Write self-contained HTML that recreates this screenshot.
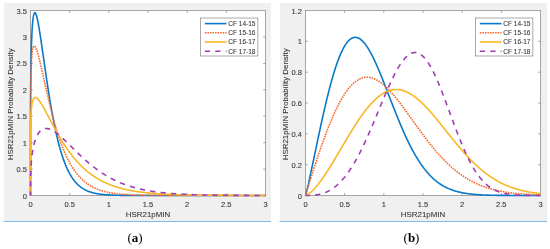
<!DOCTYPE html>
<html><head><meta charset="utf-8"><style>
html,body{margin:0;padding:0;background:#fff;}
body{width:550px;height:249px;overflow:hidden;}
svg{display:block;}
</style></head><body>
<svg width="550" height="249" viewBox="0 0 550 249">
<rect x="4" y="3" width="267" height="218" fill="#f0f0f0"/>
<rect x="3.5" y="221" width="267.5" height="1" fill="#80b9ea"/>
<rect x="30.5" y="10.5" width="235" height="185" fill="#fff"/>
<g stroke="#555" stroke-width="0.5" fill="none">
<rect x="30.5" y="10.5" width="235" height="185"/>
<path d="M69.67 195.5v-2.4M69.67 10.5v2.4"/>
<path d="M108.83 195.5v-2.4M108.83 10.5v2.4"/>
<path d="M148.00 195.5v-2.4M148.00 10.5v2.4"/>
<path d="M187.17 195.5v-2.4M187.17 10.5v2.4"/>
<path d="M226.33 195.5v-2.4M226.33 10.5v2.4"/>
<path d="M30.5 169.07h2.4M265.5 169.07h-2.4"/>
<path d="M30.5 142.64h2.4M265.5 142.64h-2.4"/>
<path d="M30.5 116.21h2.4M265.5 116.21h-2.4"/>
<path d="M30.5 89.79h2.4M265.5 89.79h-2.4"/>
<path d="M30.5 63.36h2.4M265.5 63.36h-2.4"/>
<path d="M30.5 36.93h2.4M265.5 36.93h-2.4"/>
</g>
<g fill="none" stroke-width="1.6" stroke-linejoin="round">
<polyline points="30.50,195.50 30.52,132.63 30.54,121.66 30.56,114.39 30.58,108.81 30.60,104.24 30.62,100.33 30.64,96.90 30.66,93.84 30.68,91.07 30.70,88.53 30.72,86.19 30.74,84.02 30.76,81.98 30.78,80.07 30.80,78.27 30.81,76.57 30.83,74.95 30.85,73.41 30.87,71.93 30.89,70.53 30.91,69.18 30.93,67.88 30.95,66.64 30.97,65.43 30.99,64.28 31.01,63.16 31.03,62.08 31.05,61.03 31.07,60.02 31.09,59.04 31.11,58.08 31.13,57.16 31.15,56.26 31.17,55.38 31.19,54.53 31.21,53.70 31.23,52.89 31.25,52.11 31.27,51.34 31.29,50.59 31.31,49.86 31.33,49.14 31.35,48.45 31.37,47.76 31.39,47.10 31.41,46.44 31.43,45.81 31.44,45.18 31.46,44.57 31.48,43.97 31.50,43.39 31.52,42.81 31.54,42.25 31.56,41.70 31.58,41.16 31.60,40.63 31.62,40.11 31.64,39.60 31.66,39.10 31.68,38.61 31.70,38.12 31.72,37.65 31.74,37.19 31.76,36.73 31.78,36.28 31.80,35.84 31.82,35.41 31.84,34.99 31.86,34.57 31.88,34.16 31.90,33.76 31.92,33.36 31.94,32.97 31.96,32.59 31.98,32.21 32.00,31.84 32.02,31.48 32.04,31.12 32.05,30.77 32.07,30.42 32.09,30.08 32.11,29.75 32.13,29.42 32.15,29.10 32.17,28.78 32.19,28.46 32.21,28.15 32.23,27.85 32.25,27.55 32.27,27.26 32.29,26.97 32.31,26.69 32.33,26.41 32.35,26.13 32.37,25.86 32.39,25.59 32.41,25.33 32.43,25.07 32.45,24.82 32.47,24.57 32.49,24.32 32.51,24.08 32.53,23.84 32.55,23.60 32.57,23.37 32.59,23.14 32.61,22.92 32.63,22.70 32.65,22.48 32.66,22.27 32.68,22.06 32.70,21.85 32.72,21.65 32.74,21.45 32.76,21.25 32.78,21.06 32.80,20.87 32.82,20.68 32.84,20.50 32.86,20.32 32.88,20.14 32.90,19.96 32.92,19.79 32.94,19.62 32.96,19.45 32.98,19.29 33.00,19.13 33.02,18.97 33.04,18.81 33.06,18.66 33.08,18.51 33.10,18.36 33.12,18.21 33.14,18.07 33.16,17.93 33.18,17.79 33.20,17.65 33.22,17.52 33.24,17.39 33.26,17.26 33.28,17.13 33.29,17.01 33.31,16.88 33.33,16.76 33.35,16.65 33.37,16.53 33.39,16.42 33.41,16.31 33.43,16.20 33.45,16.09 33.47,15.98 33.49,15.88 33.51,15.78 33.53,15.68 33.55,15.58 33.57,15.49 33.59,15.40 33.61,15.30 33.63,15.21 33.65,15.13 33.67,15.04 33.69,14.96 33.71,14.88 33.73,14.79 33.75,14.72 33.77,14.64 33.79,14.56 33.81,14.49 33.83,14.42 33.85,14.35 33.87,14.28 33.89,14.22 33.90,14.15 33.92,14.09 33.94,14.03 33.96,13.97 33.98,13.91 34.00,13.85 34.02,13.79 34.04,13.74 34.06,13.69 34.08,13.64 34.10,13.59 34.12,13.54 34.14,13.49 34.16,13.45 34.18,13.41 34.20,13.36 34.22,13.32 34.24,13.28 34.26,13.25 34.28,13.21 34.30,13.17 34.32,13.14 34.34,13.11 34.36,13.08 34.38,13.05 34.40,13.02 34.42,12.99 34.42,12.99 34.80,12.71 35.19,12.84 35.57,13.34 35.96,14.15 36.35,15.23 36.73,16.55 37.12,18.07 37.50,19.77 37.89,21.63 38.27,23.63 38.66,25.75 39.05,27.97 39.43,30.28 39.82,32.68 40.20,35.14 40.59,37.65 40.97,40.22 41.36,42.82 41.75,45.46 42.13,48.12 42.52,50.80 42.90,53.49 43.29,56.19 43.68,58.90 44.06,61.60 44.45,64.29 44.83,66.98 45.22,69.66 45.60,72.31 45.99,74.96 46.38,77.58 46.76,80.17 47.15,82.75 47.53,85.29 47.92,87.81 48.30,90.29 48.69,92.75 49.08,95.17 49.46,97.56 49.85,99.91 50.23,102.23 50.62,104.52 51.01,106.76 51.39,108.97 51.78,111.14 52.16,113.28 52.55,115.37 52.93,117.43 53.32,119.45 53.71,121.43 54.09,123.37 54.48,125.27 54.86,127.14 55.25,128.96 55.63,130.75 56.02,132.50 56.41,134.22 56.79,135.89 57.18,137.53 57.56,139.14 57.95,140.71 58.34,142.24 58.72,143.73 59.11,145.20 59.49,146.62 59.88,148.02 60.26,149.38 60.65,150.70 61.04,152.00 61.42,153.26 61.81,154.49 62.19,155.69 62.58,156.87 62.96,158.01 63.35,159.12 63.74,160.20 64.12,161.26 64.51,162.28 64.89,163.28 65.28,164.26 65.66,165.21 66.05,166.13 66.44,167.03 66.82,167.90 67.21,168.75 67.59,169.57 67.98,170.38 68.37,171.16 68.75,171.92 69.14,172.65 69.52,173.37 69.91,174.07 70.29,174.75 70.68,175.40 71.07,176.04 71.45,176.66 71.84,177.26 72.22,177.85 72.61,178.41 72.99,178.97 73.38,179.50 73.77,180.02 74.15,180.52 74.54,181.01 74.92,181.48 75.31,181.94 75.70,182.39 76.08,182.82 76.47,183.24 76.85,183.64 77.24,184.04 77.62,184.42 78.01,184.79 78.40,185.15 78.78,185.49 79.17,185.83 79.55,186.15 79.94,186.47 80.32,186.77 80.71,187.07 81.10,187.36 81.48,187.63 81.87,187.90 82.25,188.16 82.64,188.41 83.03,188.66 83.41,188.89 83.80,189.12 84.18,189.34 84.57,189.55 84.95,189.76 85.34,189.96 85.73,190.15 86.11,190.34 86.50,190.52 86.88,190.69 87.27,190.86 87.65,191.03 88.04,191.18 88.43,191.34 88.81,191.48 89.20,191.63 89.58,191.76 89.97,191.90 90.36,192.02 90.74,192.15 91.13,192.27 91.51,192.38 91.90,192.50 92.28,192.60 92.67,192.71 93.06,192.81 93.44,192.91 93.83,193.00 94.21,193.09 94.60,193.18 94.98,193.26 95.37,193.34 95.76,193.42 96.14,193.50 96.53,193.57 96.91,193.64 97.30,193.71 97.68,193.78 98.07,193.84 98.46,193.90 98.84,193.96 99.23,194.02 99.61,194.07 100.00,194.13 100.39,194.18 100.77,194.23 101.16,194.27 101.54,194.32 101.93,194.36 102.31,194.41 102.70,194.45 103.09,194.49 103.47,194.52 103.86,194.56 104.24,194.60 104.63,194.63 105.01,194.66 105.40,194.70 105.79,194.73 106.17,194.76 106.56,194.78 106.94,194.81 107.33,194.84 107.72,194.86 108.10,194.89 108.49,194.91 108.87,194.93 109.26,194.95 109.64,194.98 110.03,195.00 110.42,195.02 110.80,195.03 111.19,195.05 111.57,195.07 111.96,195.09 112.34,195.10 112.73,195.12 113.12,195.13 113.50,195.15 113.89,195.16 114.27,195.17 114.66,195.19 115.05,195.20 115.43,195.21 115.82,195.22 116.20,195.23 116.59,195.24 116.97,195.25 117.36,195.26 117.75,195.27 118.13,195.28 118.52,195.29 118.90,195.30 119.29,195.31 119.67,195.31 120.06,195.32 120.45,195.33 120.83,195.34 121.22,195.34 121.60,195.35 121.99,195.35 122.37,195.36 122.76,195.37 123.15,195.37 123.53,195.38 123.92,195.38 124.30,195.39 124.69,195.39 125.08,195.39 125.46,195.40 125.85,195.40 126.23,195.41 126.62,195.41 127.00,195.41 127.39,195.42 127.78,195.42 128.16,195.42 128.55,195.43 128.93,195.43 129.32,195.43 129.70,195.44 130.09,195.44 130.48,195.44 130.86,195.44 131.25,195.45 131.63,195.45 132.02,195.45 132.41,195.45 132.79,195.45 133.18,195.46 133.56,195.46 133.95,195.46 134.33,195.46 134.72,195.46 135.11,195.46 135.49,195.47 135.88,195.47 136.26,195.47 136.65,195.47 137.03,195.47 137.42,195.47 137.81,195.47 138.19,195.47 138.58,195.48 138.96,195.48 139.35,195.48 139.74,195.48 140.12,195.48 140.51,195.48 140.89,195.48 141.28,195.48 141.66,195.48 142.05,195.48 142.44,195.48 142.82,195.48 143.21,195.49 143.59,195.49 143.98,195.49 144.36,195.49 144.75,195.49 145.14,195.49 145.52,195.49 145.91,195.49 146.29,195.49 146.68,195.49 147.06,195.49 147.45,195.49 147.84,195.49 148.22,195.49 148.61,195.49 148.99,195.49 149.38,195.49 149.77,195.49 150.15,195.49 150.54,195.49 150.92,195.49 151.31,195.49 151.69,195.49 152.08,195.49 152.47,195.49 152.85,195.50 153.24,195.50 153.62,195.50 154.01,195.50 154.39,195.50 154.78,195.50 155.17,195.50 155.55,195.50 155.94,195.50 156.32,195.50 156.71,195.50 157.10,195.50 157.48,195.50 157.87,195.50 158.25,195.50 158.64,195.50 159.02,195.50 159.41,195.50 159.80,195.50 160.18,195.50 160.57,195.50 160.95,195.50 161.34,195.50 161.72,195.50 162.11,195.50 162.50,195.50 162.88,195.50 163.27,195.50 163.65,195.50 164.04,195.50 164.43,195.50 164.81,195.50 165.20,195.50 165.58,195.50 165.97,195.50 166.35,195.50 166.74,195.50 167.13,195.50 167.51,195.50 167.90,195.50 168.28,195.50 168.67,195.50 169.05,195.50 169.44,195.50 169.83,195.50 170.21,195.50 170.60,195.50 170.98,195.50 171.37,195.50 171.76,195.50 172.14,195.50 172.53,195.50 172.91,195.50 173.30,195.50 173.68,195.50 174.07,195.50 174.46,195.50 174.84,195.50 175.23,195.50 175.61,195.50 176.00,195.50 176.38,195.50 176.77,195.50 177.16,195.50 177.54,195.50 177.93,195.50 178.31,195.50 178.70,195.50 179.08,195.50 179.47,195.50 179.86,195.50 180.24,195.50 180.63,195.50 181.01,195.50 181.40,195.50 181.79,195.50 182.17,195.50 182.56,195.50 182.94,195.50 183.33,195.50 183.71,195.50 184.10,195.50 184.49,195.50 184.87,195.50 185.26,195.50 185.64,195.50 186.03,195.50 186.41,195.50 186.80,195.50 187.19,195.50 187.57,195.50 187.96,195.50 188.34,195.50 188.73,195.50 189.12,195.50 189.50,195.50 189.89,195.50 190.27,195.50 190.66,195.50 191.04,195.50 191.43,195.50 191.82,195.50 192.20,195.50 192.59,195.50 192.97,195.50 193.36,195.50 193.74,195.50 194.13,195.50 194.52,195.50 194.90,195.50 195.29,195.50 195.67,195.50 196.06,195.50 196.45,195.50 196.83,195.50 197.22,195.50 197.60,195.50 197.99,195.50 198.37,195.50 198.76,195.50 199.15,195.50 199.53,195.50 199.92,195.50 200.30,195.50 200.69,195.50 201.07,195.50 201.46,195.50 201.85,195.50 202.23,195.50 202.62,195.50 203.00,195.50 203.39,195.50 203.77,195.50 204.16,195.50 204.55,195.50 204.93,195.50 205.32,195.50 205.70,195.50 206.09,195.50 206.48,195.50 206.86,195.50 207.25,195.50 207.63,195.50 208.02,195.50 208.40,195.50 208.79,195.50 209.18,195.50 209.56,195.50 209.95,195.50 210.33,195.50 210.72,195.50 211.10,195.50 211.49,195.50 211.88,195.50 212.26,195.50 212.65,195.50 213.03,195.50 213.42,195.50 213.81,195.50 214.19,195.50 214.58,195.50 214.96,195.50 215.35,195.50 215.73,195.50 216.12,195.50 216.51,195.50 216.89,195.50 217.28,195.50 217.66,195.50 218.05,195.50 218.43,195.50 218.82,195.50 219.21,195.50 219.59,195.50 219.98,195.50 220.36,195.50 220.75,195.50 221.14,195.50 221.52,195.50 221.91,195.50 222.29,195.50 222.68,195.50 223.06,195.50 223.45,195.50 223.84,195.50 224.22,195.50 224.61,195.50 224.99,195.50 225.38,195.50 225.76,195.50 226.15,195.50 226.54,195.50 226.92,195.50 227.31,195.50 227.69,195.50 228.08,195.50 228.46,195.50 228.85,195.50 229.24,195.50 229.62,195.50 230.01,195.50 230.39,195.50 230.78,195.50 231.17,195.50 231.55,195.50 231.94,195.50 232.32,195.50 232.71,195.50 233.09,195.50 233.48,195.50 233.87,195.50 234.25,195.50 234.64,195.50 235.02,195.50 235.41,195.50 235.79,195.50 236.18,195.50 236.57,195.50 236.95,195.50 237.34,195.50 237.72,195.50 238.11,195.50 238.50,195.50 238.88,195.50 239.27,195.50 239.65,195.50 240.04,195.50 240.42,195.50 240.81,195.50 241.20,195.50 241.58,195.50 241.97,195.50 242.35,195.50 242.74,195.50 243.12,195.50 243.51,195.50 243.90,195.50 244.28,195.50 244.67,195.50 245.05,195.50 245.44,195.50 245.83,195.50 246.21,195.50 246.60,195.50 246.98,195.50 247.37,195.50 247.75,195.50 248.14,195.50 248.53,195.50 248.91,195.50 249.30,195.50 249.68,195.50 250.07,195.50 250.45,195.50 250.84,195.50 251.23,195.50 251.61,195.50 252.00,195.50 252.38,195.50 252.77,195.50 253.15,195.50 253.54,195.50 253.93,195.50 254.31,195.50 254.70,195.50 255.08,195.50 255.47,195.50 255.86,195.50 256.24,195.50 256.63,195.50 257.01,195.50 257.40,195.50 257.78,195.50 258.17,195.50 258.56,195.50 258.94,195.50 259.33,195.50 259.71,195.50 260.10,195.50 260.48,195.50 260.87,195.50 261.26,195.50 261.64,195.50 262.03,195.50 262.41,195.50 262.80,195.50 263.19,195.50 263.57,195.50 263.96,195.50 264.34,195.50 264.73,195.50 265.11,195.50 265.50,195.50" stroke="#0a78c8"/>
<polyline points="30.50,195.50 30.52,120.52 30.54,111.94 30.56,106.49 30.58,102.43 30.60,99.15 30.62,96.41 30.64,94.03 30.66,91.93 30.68,90.05 30.70,88.35 30.72,86.79 30.74,85.36 30.76,84.02 30.78,82.78 30.80,81.62 30.81,80.52 30.83,79.49 30.85,78.51 30.87,77.58 30.89,76.69 30.91,75.85 30.93,75.04 30.95,74.27 30.97,73.53 30.99,72.82 31.01,72.13 31.03,71.47 31.05,70.84 31.07,70.23 31.09,69.63 31.11,69.06 31.13,68.51 31.15,67.97 31.17,67.45 31.19,66.95 31.21,66.46 31.23,65.99 31.25,65.53 31.27,65.08 31.29,64.64 31.31,64.22 31.33,63.80 31.35,63.40 31.37,63.01 31.39,62.63 31.41,62.26 31.43,61.89 31.44,61.54 31.46,61.19 31.48,60.86 31.50,60.53 31.52,60.20 31.54,59.89 31.56,59.58 31.58,59.28 31.60,58.99 31.62,58.70 31.64,58.42 31.66,58.14 31.68,57.87 31.70,57.61 31.72,57.35 31.74,57.10 31.76,56.85 31.78,56.61 31.80,56.37 31.82,56.14 31.84,55.91 31.86,55.69 31.88,55.47 31.90,55.25 31.92,55.04 31.94,54.84 31.96,54.64 31.98,54.44 32.00,54.24 32.02,54.05 32.04,53.87 32.05,53.68 32.07,53.50 32.09,53.33 32.11,53.16 32.13,52.99 32.15,52.82 32.17,52.66 32.19,52.50 32.21,52.34 32.23,52.19 32.25,52.04 32.27,51.89 32.29,51.74 32.31,51.60 32.33,51.46 32.35,51.32 32.37,51.19 32.39,51.06 32.41,50.93 32.43,50.80 32.45,50.68 32.47,50.55 32.49,50.43 32.51,50.32 32.53,50.20 32.55,50.09 32.57,49.98 32.59,49.87 32.61,49.76 32.63,49.66 32.65,49.56 32.66,49.45 32.68,49.36 32.70,49.26 32.72,49.17 32.74,49.07 32.76,48.98 32.78,48.89 32.80,48.81 32.82,48.72 32.84,48.64 32.86,48.55 32.88,48.47 32.90,48.40 32.92,48.32 32.94,48.24 32.96,48.17 32.98,48.10 33.00,48.03 33.02,47.96 33.04,47.89 33.06,47.83 33.08,47.76 33.10,47.70 33.12,47.64 33.14,47.58 33.16,47.52 33.18,47.46 33.20,47.40 33.22,47.35 33.24,47.30 33.26,47.24 33.28,47.19 33.29,47.14 33.31,47.10 33.33,47.05 33.35,47.00 33.37,46.96 33.39,46.92 33.41,46.87 33.43,46.83 33.45,46.79 33.47,46.75 33.49,46.72 33.51,46.68 33.53,46.64 33.55,46.61 33.57,46.58 33.59,46.55 33.61,46.51 33.63,46.48 33.65,46.46 33.67,46.43 33.69,46.40 33.71,46.38 33.73,46.35 33.75,46.33 33.77,46.30 33.79,46.28 33.81,46.26 33.83,46.24 33.85,46.22 33.87,46.20 33.89,46.19 33.90,46.17 33.92,46.15 33.94,46.14 33.96,46.13 33.98,46.11 34.00,46.10 34.02,46.09 34.04,46.08 34.06,46.07 34.08,46.06 34.10,46.05 34.12,46.05 34.14,46.04 34.16,46.04 34.18,46.03 34.20,46.03 34.22,46.02 34.24,46.02 34.26,46.02 34.28,46.02 34.30,46.02 34.32,46.02 34.34,46.02 34.36,46.02 34.38,46.02 34.40,46.03 34.42,46.03 34.42,46.03 34.80,46.24 35.19,46.68 35.57,47.30 35.96,48.08 36.35,49.00 36.73,50.04 37.12,51.19 37.50,52.42 37.89,53.74 38.27,55.12 38.66,56.56 39.05,58.06 39.43,59.59 39.82,61.17 40.20,62.78 40.59,64.42 40.97,66.08 41.36,67.76 41.75,69.46 42.13,71.17 42.52,72.90 42.90,74.63 43.29,76.36 43.68,78.10 44.06,79.83 44.45,81.57 44.83,83.30 45.22,85.03 45.60,86.75 45.99,88.47 46.38,90.17 46.76,91.87 47.15,93.56 47.53,95.23 47.92,96.89 48.30,98.54 48.69,100.17 49.08,101.79 49.46,103.40 49.85,104.99 50.23,106.56 50.62,108.12 51.01,109.66 51.39,111.18 51.78,112.68 52.16,114.17 52.55,115.64 52.93,117.09 53.32,118.52 53.71,119.93 54.09,121.33 54.48,122.70 54.86,124.06 55.25,125.40 55.63,126.72 56.02,128.02 56.41,129.30 56.79,130.57 57.18,131.81 57.56,133.04 57.95,134.24 58.34,135.43 58.72,136.60 59.11,137.75 59.49,138.89 59.88,140.00 60.26,141.10 60.65,142.18 61.04,143.24 61.42,144.28 61.81,145.31 62.19,146.32 62.58,147.31 62.96,148.28 63.35,149.24 63.74,150.18 64.12,151.11 64.51,152.02 64.89,152.91 65.28,153.79 65.66,154.65 66.05,155.50 66.44,156.33 66.82,157.14 67.21,157.94 67.59,158.73 67.98,159.50 68.37,160.26 68.75,161.00 69.14,161.73 69.52,162.45 69.91,163.15 70.29,163.84 70.68,164.51 71.07,165.17 71.45,165.82 71.84,166.46 72.22,167.09 72.61,167.70 72.99,168.30 73.38,168.89 73.77,169.47 74.15,170.03 74.54,170.59 74.92,171.13 75.31,171.67 75.70,172.19 76.08,172.70 76.47,173.20 76.85,173.69 77.24,174.17 77.62,174.65 78.01,175.11 78.40,175.56 78.78,176.01 79.17,176.44 79.55,176.87 79.94,177.28 80.32,177.69 80.71,178.09 81.10,178.48 81.48,178.86 81.87,179.24 82.25,179.61 82.64,179.97 83.03,180.32 83.41,180.66 83.80,181.00 84.18,181.33 84.57,181.65 84.95,181.97 85.34,182.28 85.73,182.58 86.11,182.88 86.50,183.17 86.88,183.45 87.27,183.73 87.65,184.00 88.04,184.27 88.43,184.53 88.81,184.78 89.20,185.03 89.58,185.27 89.97,185.51 90.36,185.74 90.74,185.97 91.13,186.19 91.51,186.41 91.90,186.62 92.28,186.83 92.67,187.03 93.06,187.23 93.44,187.43 93.83,187.62 94.21,187.80 94.60,187.98 94.98,188.16 95.37,188.34 95.76,188.51 96.14,188.67 96.53,188.83 96.91,188.99 97.30,189.15 97.68,189.30 98.07,189.45 98.46,189.59 98.84,189.73 99.23,189.87 99.61,190.01 100.00,190.14 100.39,190.27 100.77,190.39 101.16,190.51 101.54,190.63 101.93,190.75 102.31,190.87 102.70,190.98 103.09,191.09 103.47,191.20 103.86,191.30 104.24,191.40 104.63,191.50 105.01,191.60 105.40,191.69 105.79,191.79 106.17,191.88 106.56,191.97 106.94,192.05 107.33,192.14 107.72,192.22 108.10,192.30 108.49,192.38 108.87,192.45 109.26,192.53 109.64,192.60 110.03,192.67 110.42,192.74 110.80,192.81 111.19,192.88 111.57,192.94 111.96,193.01 112.34,193.07 112.73,193.13 113.12,193.19 113.50,193.24 113.89,193.30 114.27,193.35 114.66,193.41 115.05,193.46 115.43,193.51 115.82,193.56 116.20,193.61 116.59,193.66 116.97,193.70 117.36,193.75 117.75,193.79 118.13,193.83 118.52,193.88 118.90,193.92 119.29,193.96 119.67,194.00 120.06,194.03 120.45,194.07 120.83,194.11 121.22,194.14 121.60,194.18 121.99,194.21 122.37,194.24 122.76,194.27 123.15,194.30 123.53,194.34 123.92,194.36 124.30,194.39 124.69,194.42 125.08,194.45 125.46,194.48 125.85,194.50 126.23,194.53 126.62,194.55 127.00,194.58 127.39,194.60 127.78,194.62 128.16,194.65 128.55,194.67 128.93,194.69 129.32,194.71 129.70,194.73 130.09,194.75 130.48,194.77 130.86,194.79 131.25,194.81 131.63,194.82 132.02,194.84 132.41,194.86 132.79,194.87 133.18,194.89 133.56,194.91 133.95,194.92 134.33,194.94 134.72,194.95 135.11,194.97 135.49,194.98 135.88,194.99 136.26,195.01 136.65,195.02 137.03,195.03 137.42,195.04 137.81,195.06 138.19,195.07 138.58,195.08 138.96,195.09 139.35,195.10 139.74,195.11 140.12,195.12 140.51,195.13 140.89,195.14 141.28,195.15 141.66,195.16 142.05,195.17 142.44,195.18 142.82,195.19 143.21,195.19 143.59,195.20 143.98,195.21 144.36,195.22 144.75,195.22 145.14,195.23 145.52,195.24 145.91,195.25 146.29,195.25 146.68,195.26 147.06,195.27 147.45,195.27 147.84,195.28 148.22,195.28 148.61,195.29 148.99,195.29 149.38,195.30 149.77,195.31 150.15,195.31 150.54,195.32 150.92,195.32 151.31,195.33 151.69,195.33 152.08,195.33 152.47,195.34 152.85,195.34 153.24,195.35 153.62,195.35 154.01,195.36 154.39,195.36 154.78,195.36 155.17,195.37 155.55,195.37 155.94,195.37 156.32,195.38 156.71,195.38 157.10,195.38 157.48,195.39 157.87,195.39 158.25,195.39 158.64,195.40 159.02,195.40 159.41,195.40 159.80,195.40 160.18,195.41 160.57,195.41 160.95,195.41 161.34,195.41 161.72,195.42 162.11,195.42 162.50,195.42 162.88,195.42 163.27,195.42 163.65,195.43 164.04,195.43 164.43,195.43 164.81,195.43 165.20,195.43 165.58,195.44 165.97,195.44 166.35,195.44 166.74,195.44 167.13,195.44 167.51,195.44 167.90,195.45 168.28,195.45 168.67,195.45 169.05,195.45 169.44,195.45 169.83,195.45 170.21,195.45 170.60,195.46 170.98,195.46 171.37,195.46 171.76,195.46 172.14,195.46 172.53,195.46 172.91,195.46 173.30,195.46 173.68,195.46 174.07,195.47 174.46,195.47 174.84,195.47 175.23,195.47 175.61,195.47 176.00,195.47 176.38,195.47 176.77,195.47 177.16,195.47 177.54,195.47 177.93,195.47 178.31,195.47 178.70,195.48 179.08,195.48 179.47,195.48 179.86,195.48 180.24,195.48 180.63,195.48 181.01,195.48 181.40,195.48 181.79,195.48 182.17,195.48 182.56,195.48 182.94,195.48 183.33,195.48 183.71,195.48 184.10,195.48 184.49,195.48 184.87,195.48 185.26,195.48 185.64,195.48 186.03,195.49 186.41,195.49 186.80,195.49 187.19,195.49 187.57,195.49 187.96,195.49 188.34,195.49 188.73,195.49 189.12,195.49 189.50,195.49 189.89,195.49 190.27,195.49 190.66,195.49 191.04,195.49 191.43,195.49 191.82,195.49 192.20,195.49 192.59,195.49 192.97,195.49 193.36,195.49 193.74,195.49 194.13,195.49 194.52,195.49 194.90,195.49 195.29,195.49 195.67,195.49 196.06,195.49 196.45,195.49 196.83,195.49 197.22,195.49 197.60,195.49 197.99,195.49 198.37,195.49 198.76,195.49 199.15,195.49 199.53,195.49 199.92,195.49 200.30,195.49 200.69,195.50 201.07,195.50 201.46,195.50 201.85,195.50 202.23,195.50 202.62,195.50 203.00,195.50 203.39,195.50 203.77,195.50 204.16,195.50 204.55,195.50 204.93,195.50 205.32,195.50 205.70,195.50 206.09,195.50 206.48,195.50 206.86,195.50 207.25,195.50 207.63,195.50 208.02,195.50 208.40,195.50 208.79,195.50 209.18,195.50 209.56,195.50 209.95,195.50 210.33,195.50 210.72,195.50 211.10,195.50 211.49,195.50 211.88,195.50 212.26,195.50 212.65,195.50 213.03,195.50 213.42,195.50 213.81,195.50 214.19,195.50 214.58,195.50 214.96,195.50 215.35,195.50 215.73,195.50 216.12,195.50 216.51,195.50 216.89,195.50 217.28,195.50 217.66,195.50 218.05,195.50 218.43,195.50 218.82,195.50 219.21,195.50 219.59,195.50 219.98,195.50 220.36,195.50 220.75,195.50 221.14,195.50 221.52,195.50 221.91,195.50 222.29,195.50 222.68,195.50 223.06,195.50 223.45,195.50 223.84,195.50 224.22,195.50 224.61,195.50 224.99,195.50 225.38,195.50 225.76,195.50 226.15,195.50 226.54,195.50 226.92,195.50 227.31,195.50 227.69,195.50 228.08,195.50 228.46,195.50 228.85,195.50 229.24,195.50 229.62,195.50 230.01,195.50 230.39,195.50 230.78,195.50 231.17,195.50 231.55,195.50 231.94,195.50 232.32,195.50 232.71,195.50 233.09,195.50 233.48,195.50 233.87,195.50 234.25,195.50 234.64,195.50 235.02,195.50 235.41,195.50 235.79,195.50 236.18,195.50 236.57,195.50 236.95,195.50 237.34,195.50 237.72,195.50 238.11,195.50 238.50,195.50 238.88,195.50 239.27,195.50 239.65,195.50 240.04,195.50 240.42,195.50 240.81,195.50 241.20,195.50 241.58,195.50 241.97,195.50 242.35,195.50 242.74,195.50 243.12,195.50 243.51,195.50 243.90,195.50 244.28,195.50 244.67,195.50 245.05,195.50 245.44,195.50 245.83,195.50 246.21,195.50 246.60,195.50 246.98,195.50 247.37,195.50 247.75,195.50 248.14,195.50 248.53,195.50 248.91,195.50 249.30,195.50 249.68,195.50 250.07,195.50 250.45,195.50 250.84,195.50 251.23,195.50 251.61,195.50 252.00,195.50 252.38,195.50 252.77,195.50 253.15,195.50 253.54,195.50 253.93,195.50 254.31,195.50 254.70,195.50 255.08,195.50 255.47,195.50 255.86,195.50 256.24,195.50 256.63,195.50 257.01,195.50 257.40,195.50 257.78,195.50 258.17,195.50 258.56,195.50 258.94,195.50 259.33,195.50 259.71,195.50 260.10,195.50 260.48,195.50 260.87,195.50 261.26,195.50 261.64,195.50 262.03,195.50 262.41,195.50 262.80,195.50 263.19,195.50 263.57,195.50 263.96,195.50 264.34,195.50 264.73,195.50 265.11,195.50 265.50,195.50" stroke="#f66a32" stroke-dasharray="1.6 0.95"/>
<polyline points="30.50,195.50 30.52,141.12 30.54,136.11 30.56,132.98 30.58,130.66 30.60,128.81 30.62,127.26 30.64,125.93 30.66,124.76 30.68,123.71 30.70,122.77 30.72,121.90 30.74,121.11 30.76,120.37 30.78,119.68 30.80,119.04 30.81,118.44 30.83,117.87 30.85,117.33 30.87,116.82 30.89,116.33 30.91,115.87 30.93,115.42 30.95,115.00 30.97,114.59 30.99,114.20 31.01,113.83 31.03,113.46 31.05,113.11 31.07,112.78 31.09,112.45 31.11,112.14 31.13,111.83 31.15,111.54 31.17,111.25 31.19,110.97 31.21,110.70 31.23,110.44 31.25,110.19 31.27,109.94 31.29,109.70 31.31,109.46 31.33,109.23 31.35,109.01 31.37,108.79 31.39,108.58 31.41,108.37 31.43,108.17 31.44,107.97 31.46,107.78 31.48,107.59 31.50,107.41 31.52,107.22 31.54,107.05 31.56,106.87 31.58,106.71 31.60,106.54 31.62,106.38 31.64,106.22 31.66,106.06 31.68,105.91 31.70,105.76 31.72,105.61 31.74,105.47 31.76,105.33 31.78,105.19 31.80,105.05 31.82,104.92 31.84,104.79 31.86,104.66 31.88,104.53 31.90,104.41 31.92,104.28 31.94,104.16 31.96,104.05 31.98,103.93 32.00,103.82 32.02,103.71 32.04,103.60 32.05,103.49 32.07,103.38 32.09,103.28 32.11,103.17 32.13,103.07 32.15,102.97 32.17,102.88 32.19,102.78 32.21,102.69 32.23,102.59 32.25,102.50 32.27,102.41 32.29,102.32 32.31,102.24 32.33,102.15 32.35,102.07 32.37,101.98 32.39,101.90 32.41,101.82 32.43,101.74 32.45,101.66 32.47,101.59 32.49,101.51 32.51,101.44 32.53,101.36 32.55,101.29 32.57,101.22 32.59,101.15 32.61,101.08 32.63,101.02 32.65,100.95 32.66,100.88 32.68,100.82 32.70,100.75 32.72,100.69 32.74,100.63 32.76,100.57 32.78,100.51 32.80,100.45 32.82,100.39 32.84,100.34 32.86,100.28 32.88,100.22 32.90,100.17 32.92,100.12 32.94,100.06 32.96,100.01 32.98,99.96 33.00,99.91 33.02,99.86 33.04,99.81 33.06,99.76 33.08,99.71 33.10,99.67 33.12,99.62 33.14,99.58 33.16,99.53 33.18,99.49 33.20,99.44 33.22,99.40 33.24,99.36 33.26,99.32 33.28,99.28 33.29,99.24 33.31,99.20 33.33,99.16 33.35,99.12 33.37,99.08 33.39,99.05 33.41,99.01 33.43,98.98 33.45,98.94 33.47,98.91 33.49,98.87 33.51,98.84 33.53,98.81 33.55,98.77 33.57,98.74 33.59,98.71 33.61,98.68 33.63,98.65 33.65,98.62 33.67,98.59 33.69,98.56 33.71,98.53 33.73,98.51 33.75,98.48 33.77,98.45 33.79,98.43 33.81,98.40 33.83,98.38 33.85,98.35 33.87,98.33 33.89,98.30 33.90,98.28 33.92,98.26 33.94,98.23 33.96,98.21 33.98,98.19 34.00,98.17 34.02,98.15 34.04,98.13 34.06,98.11 34.08,98.09 34.10,98.07 34.12,98.05 34.14,98.03 34.16,98.01 34.18,98.00 34.20,97.98 34.22,97.96 34.24,97.95 34.26,97.93 34.28,97.91 34.30,97.90 34.32,97.88 34.34,97.87 34.36,97.85 34.38,97.84 34.40,97.83 34.42,97.81 34.42,97.81 34.80,97.62 35.19,97.54 35.57,97.56 35.96,97.65 36.35,97.82 36.73,98.05 37.12,98.34 37.50,98.67 37.89,99.05 38.27,99.47 38.66,99.92 39.05,100.41 39.43,100.92 39.82,101.45 40.20,102.01 40.59,102.60 40.97,103.19 41.36,103.81 41.75,104.44 42.13,105.09 42.52,105.75 42.90,106.41 43.29,107.09 43.68,107.78 44.06,108.48 44.45,109.18 44.83,109.89 45.22,110.60 45.60,111.32 45.99,112.04 46.38,112.77 46.76,113.50 47.15,114.23 47.53,114.97 47.92,115.70 48.30,116.44 48.69,117.17 49.08,117.91 49.46,118.65 49.85,119.38 50.23,120.12 50.62,120.85 51.01,121.58 51.39,122.31 51.78,123.04 52.16,123.77 52.55,124.49 52.93,125.21 53.32,125.93 53.71,126.65 54.09,127.36 54.48,128.07 54.86,128.78 55.25,129.48 55.63,130.18 56.02,130.87 56.41,131.56 56.79,132.25 57.18,132.93 57.56,133.61 57.95,134.28 58.34,134.95 58.72,135.62 59.11,136.28 59.49,136.93 59.88,137.58 60.26,138.23 60.65,138.87 61.04,139.51 61.42,140.14 61.81,140.77 62.19,141.39 62.58,142.00 62.96,142.62 63.35,143.22 63.74,143.82 64.12,144.42 64.51,145.01 64.89,145.60 65.28,146.18 65.66,146.76 66.05,147.33 66.44,147.89 66.82,148.46 67.21,149.01 67.59,149.56 67.98,150.11 68.37,150.65 68.75,151.18 69.14,151.71 69.52,152.24 69.91,152.76 70.29,153.28 70.68,153.79 71.07,154.29 71.45,154.79 71.84,155.29 72.22,155.78 72.61,156.26 72.99,156.74 73.38,157.22 73.77,157.69 74.15,158.16 74.54,158.62 74.92,159.07 75.31,159.52 75.70,159.97 76.08,160.41 76.47,160.85 76.85,161.28 77.24,161.71 77.62,162.14 78.01,162.56 78.40,162.97 78.78,163.38 79.17,163.79 79.55,164.19 79.94,164.58 80.32,164.98 80.71,165.36 81.10,165.75 81.48,166.13 81.87,166.50 82.25,166.87 82.64,167.24 83.03,167.60 83.41,167.96 83.80,168.32 84.18,168.67 84.57,169.01 84.95,169.35 85.34,169.69 85.73,170.03 86.11,170.36 86.50,170.69 86.88,171.01 87.27,171.33 87.65,171.64 88.04,171.96 88.43,172.26 88.81,172.57 89.20,172.87 89.58,173.17 89.97,173.46 90.36,173.75 90.74,174.04 91.13,174.32 91.51,174.60 91.90,174.88 92.28,175.15 92.67,175.42 93.06,175.69 93.44,175.95 93.83,176.21 94.21,176.47 94.60,176.72 94.98,176.98 95.37,177.22 95.76,177.47 96.14,177.71 96.53,177.95 96.91,178.19 97.30,178.42 97.68,178.65 98.07,178.88 98.46,179.10 98.84,179.32 99.23,179.54 99.61,179.76 100.00,179.97 100.39,180.18 100.77,180.39 101.16,180.60 101.54,180.80 101.93,181.00 102.31,181.20 102.70,181.39 103.09,181.58 103.47,181.77 103.86,181.96 104.24,182.15 104.63,182.33 105.01,182.51 105.40,182.69 105.79,182.87 106.17,183.04 106.56,183.21 106.94,183.38 107.33,183.55 107.72,183.71 108.10,183.88 108.49,184.04 108.87,184.20 109.26,184.35 109.64,184.51 110.03,184.66 110.42,184.81 110.80,184.96 111.19,185.11 111.57,185.25 111.96,185.40 112.34,185.54 112.73,185.68 113.12,185.81 113.50,185.95 113.89,186.08 114.27,186.22 114.66,186.35 115.05,186.47 115.43,186.60 115.82,186.73 116.20,186.85 116.59,186.97 116.97,187.09 117.36,187.21 117.75,187.33 118.13,187.44 118.52,187.56 118.90,187.67 119.29,187.78 119.67,187.89 120.06,188.00 120.45,188.10 120.83,188.21 121.22,188.31 121.60,188.42 121.99,188.52 122.37,188.62 122.76,188.71 123.15,188.81 123.53,188.91 123.92,189.00 124.30,189.09 124.69,189.18 125.08,189.27 125.46,189.36 125.85,189.45 126.23,189.54 126.62,189.62 127.00,189.71 127.39,189.79 127.78,189.87 128.16,189.96 128.55,190.03 128.93,190.11 129.32,190.19 129.70,190.27 130.09,190.34 130.48,190.42 130.86,190.49 131.25,190.56 131.63,190.64 132.02,190.71 132.41,190.78 132.79,190.84 133.18,190.91 133.56,190.98 133.95,191.04 134.33,191.11 134.72,191.17 135.11,191.24 135.49,191.30 135.88,191.36 136.26,191.42 136.65,191.48 137.03,191.54 137.42,191.60 137.81,191.65 138.19,191.71 138.58,191.76 138.96,191.82 139.35,191.87 139.74,191.93 140.12,191.98 140.51,192.03 140.89,192.08 141.28,192.13 141.66,192.18 142.05,192.23 142.44,192.28 142.82,192.33 143.21,192.37 143.59,192.42 143.98,192.46 144.36,192.51 144.75,192.55 145.14,192.60 145.52,192.64 145.91,192.68 146.29,192.72 146.68,192.76 147.06,192.80 147.45,192.84 147.84,192.88 148.22,192.92 148.61,192.96 148.99,193.00 149.38,193.04 149.77,193.07 150.15,193.11 150.54,193.14 150.92,193.18 151.31,193.21 151.69,193.25 152.08,193.28 152.47,193.31 152.85,193.35 153.24,193.38 153.62,193.41 154.01,193.44 154.39,193.47 154.78,193.50 155.17,193.53 155.55,193.56 155.94,193.59 156.32,193.62 156.71,193.65 157.10,193.68 157.48,193.70 157.87,193.73 158.25,193.76 158.64,193.78 159.02,193.81 159.41,193.83 159.80,193.86 160.18,193.88 160.57,193.91 160.95,193.93 161.34,193.96 161.72,193.98 162.11,194.00 162.50,194.03 162.88,194.05 163.27,194.07 163.65,194.09 164.04,194.11 164.43,194.13 164.81,194.15 165.20,194.17 165.58,194.19 165.97,194.21 166.35,194.23 166.74,194.25 167.13,194.27 167.51,194.29 167.90,194.31 168.28,194.33 168.67,194.34 169.05,194.36 169.44,194.38 169.83,194.40 170.21,194.41 170.60,194.43 170.98,194.45 171.37,194.46 171.76,194.48 172.14,194.49 172.53,194.51 172.91,194.52 173.30,194.54 173.68,194.55 174.07,194.57 174.46,194.58 174.84,194.60 175.23,194.61 175.61,194.62 176.00,194.64 176.38,194.65 176.77,194.66 177.16,194.68 177.54,194.69 177.93,194.70 178.31,194.71 178.70,194.73 179.08,194.74 179.47,194.75 179.86,194.76 180.24,194.77 180.63,194.78 181.01,194.80 181.40,194.81 181.79,194.82 182.17,194.83 182.56,194.84 182.94,194.85 183.33,194.86 183.71,194.87 184.10,194.88 184.49,194.89 184.87,194.90 185.26,194.91 185.64,194.92 186.03,194.92 186.41,194.93 186.80,194.94 187.19,194.95 187.57,194.96 187.96,194.97 188.34,194.98 188.73,194.98 189.12,194.99 189.50,195.00 189.89,195.01 190.27,195.02 190.66,195.02 191.04,195.03 191.43,195.04 191.82,195.04 192.20,195.05 192.59,195.06 192.97,195.07 193.36,195.07 193.74,195.08 194.13,195.09 194.52,195.09 194.90,195.10 195.29,195.10 195.67,195.11 196.06,195.12 196.45,195.12 196.83,195.13 197.22,195.13 197.60,195.14 197.99,195.15 198.37,195.15 198.76,195.16 199.15,195.16 199.53,195.17 199.92,195.17 200.30,195.18 200.69,195.18 201.07,195.19 201.46,195.19 201.85,195.20 202.23,195.20 202.62,195.21 203.00,195.21 203.39,195.22 203.77,195.22 204.16,195.23 204.55,195.23 204.93,195.23 205.32,195.24 205.70,195.24 206.09,195.25 206.48,195.25 206.86,195.25 207.25,195.26 207.63,195.26 208.02,195.27 208.40,195.27 208.79,195.27 209.18,195.28 209.56,195.28 209.95,195.28 210.33,195.29 210.72,195.29 211.10,195.29 211.49,195.30 211.88,195.30 212.26,195.30 212.65,195.31 213.03,195.31 213.42,195.31 213.81,195.32 214.19,195.32 214.58,195.32 214.96,195.32 215.35,195.33 215.73,195.33 216.12,195.33 216.51,195.34 216.89,195.34 217.28,195.34 217.66,195.34 218.05,195.35 218.43,195.35 218.82,195.35 219.21,195.35 219.59,195.35 219.98,195.36 220.36,195.36 220.75,195.36 221.14,195.36 221.52,195.37 221.91,195.37 222.29,195.37 222.68,195.37 223.06,195.37 223.45,195.38 223.84,195.38 224.22,195.38 224.61,195.38 224.99,195.38 225.38,195.39 225.76,195.39 226.15,195.39 226.54,195.39 226.92,195.39 227.31,195.39 227.69,195.40 228.08,195.40 228.46,195.40 228.85,195.40 229.24,195.40 229.62,195.40 230.01,195.41 230.39,195.41 230.78,195.41 231.17,195.41 231.55,195.41 231.94,195.41 232.32,195.41 232.71,195.42 233.09,195.42 233.48,195.42 233.87,195.42 234.25,195.42 234.64,195.42 235.02,195.42 235.41,195.43 235.79,195.43 236.18,195.43 236.57,195.43 236.95,195.43 237.34,195.43 237.72,195.43 238.11,195.43 238.50,195.43 238.88,195.44 239.27,195.44 239.65,195.44 240.04,195.44 240.42,195.44 240.81,195.44 241.20,195.44 241.58,195.44 241.97,195.44 242.35,195.44 242.74,195.45 243.12,195.45 243.51,195.45 243.90,195.45 244.28,195.45 244.67,195.45 245.05,195.45 245.44,195.45 245.83,195.45 246.21,195.45 246.60,195.45 246.98,195.45 247.37,195.45 247.75,195.46 248.14,195.46 248.53,195.46 248.91,195.46 249.30,195.46 249.68,195.46 250.07,195.46 250.45,195.46 250.84,195.46 251.23,195.46 251.61,195.46 252.00,195.46 252.38,195.46 252.77,195.46 253.15,195.46 253.54,195.47 253.93,195.47 254.31,195.47 254.70,195.47 255.08,195.47 255.47,195.47 255.86,195.47 256.24,195.47 256.63,195.47 257.01,195.47 257.40,195.47 257.78,195.47 258.17,195.47 258.56,195.47 258.94,195.47 259.33,195.47 259.71,195.47 260.10,195.47 260.48,195.47 260.87,195.47 261.26,195.48 261.64,195.48 262.03,195.48 262.41,195.48 262.80,195.48 263.19,195.48 263.57,195.48 263.96,195.48 264.34,195.48 264.73,195.48 265.11,195.48 265.50,195.48" stroke="#f8b826"/>
<polyline points="30.50,195.50 30.52,185.50 30.54,183.01 30.56,181.27 30.58,179.89 30.60,178.73 30.62,177.72 30.64,176.82 30.66,176.00 30.68,175.25 30.70,174.56 30.72,173.91 30.74,173.30 30.76,172.72 30.78,172.17 30.80,171.65 30.81,171.16 30.83,170.68 30.85,170.22 30.87,169.78 30.89,169.36 30.91,168.95 30.93,168.55 30.95,168.17 30.97,167.80 30.99,167.43 31.01,167.08 31.03,166.74 31.05,166.40 31.07,166.08 31.09,165.76 31.11,165.45 31.13,165.15 31.15,164.85 31.17,164.56 31.19,164.27 31.21,163.99 31.23,163.72 31.25,163.45 31.27,163.19 31.29,162.93 31.31,162.67 31.33,162.42 31.35,162.18 31.37,161.94 31.39,161.70 31.41,161.46 31.43,161.23 31.44,161.01 31.46,160.78 31.48,160.56 31.50,160.35 31.52,160.13 31.54,159.92 31.56,159.71 31.58,159.51 31.60,159.30 31.62,159.10 31.64,158.91 31.66,158.71 31.68,158.52 31.70,158.33 31.72,158.14 31.74,157.95 31.76,157.77 31.78,157.59 31.80,157.41 31.82,157.23 31.84,157.06 31.86,156.88 31.88,156.71 31.90,156.54 31.92,156.37 31.94,156.21 31.96,156.04 31.98,155.88 32.00,155.72 32.02,155.56 32.04,155.40 32.05,155.24 32.07,155.09 32.09,154.93 32.11,154.78 32.13,154.63 32.15,154.48 32.17,154.33 32.19,154.18 32.21,154.04 32.23,153.89 32.25,153.75 32.27,153.61 32.29,153.47 32.31,153.33 32.33,153.19 32.35,153.05 32.37,152.92 32.39,152.78 32.41,152.65 32.43,152.52 32.45,152.39 32.47,152.26 32.49,152.13 32.51,152.00 32.53,151.87 32.55,151.74 32.57,151.62 32.59,151.49 32.61,151.37 32.63,151.25 32.65,151.13 32.66,151.01 32.68,150.89 32.70,150.77 32.72,150.65 32.74,150.53 32.76,150.41 32.78,150.30 32.80,150.18 32.82,150.07 32.84,149.96 32.86,149.84 32.88,149.73 32.90,149.62 32.92,149.51 32.94,149.40 32.96,149.29 32.98,149.18 33.00,149.08 33.02,148.97 33.04,148.86 33.06,148.76 33.08,148.65 33.10,148.55 33.12,148.45 33.14,148.34 33.16,148.24 33.18,148.14 33.20,148.04 33.22,147.94 33.24,147.84 33.26,147.74 33.28,147.64 33.29,147.55 33.31,147.45 33.33,147.35 33.35,147.26 33.37,147.16 33.39,147.07 33.41,146.97 33.43,146.88 33.45,146.79 33.47,146.69 33.49,146.60 33.51,146.51 33.53,146.42 33.55,146.33 33.57,146.24 33.59,146.15 33.61,146.06 33.63,145.97 33.65,145.88 33.67,145.80 33.69,145.71 33.71,145.62 33.73,145.54 33.75,145.45 33.77,145.37 33.79,145.28 33.81,145.20 33.83,145.11 33.85,145.03 33.87,144.95 33.89,144.87 33.90,144.78 33.92,144.70 33.94,144.62 33.96,144.54 33.98,144.46 34.00,144.38 34.02,144.30 34.04,144.22 34.06,144.15 34.08,144.07 34.10,143.99 34.12,143.91 34.14,143.84 34.16,143.76 34.18,143.68 34.20,143.61 34.22,143.53 34.24,143.46 34.26,143.38 34.28,143.31 34.30,143.23 34.32,143.16 34.34,143.09 34.36,143.02 34.38,142.94 34.40,142.87 34.42,142.80 34.42,142.80 34.80,141.47 35.19,140.25 35.57,139.14 35.96,138.12 36.35,137.18 36.73,136.32 37.12,135.52 37.50,134.79 37.89,134.12 38.27,133.50 38.66,132.93 39.05,132.41 39.43,131.93 39.82,131.49 40.20,131.09 40.59,130.72 40.97,130.39 41.36,130.09 41.75,129.82 42.13,129.58 42.52,129.37 42.90,129.19 43.29,129.03 43.68,128.89 44.06,128.78 44.45,128.69 44.83,128.62 45.22,128.56 45.60,128.53 45.99,128.52 46.38,128.53 46.76,128.55 47.15,128.58 47.53,128.64 47.92,128.71 48.30,128.79 48.69,128.89 49.08,129.00 49.46,129.12 49.85,129.25 50.23,129.40 50.62,129.56 51.01,129.73 51.39,129.90 51.78,130.09 52.16,130.29 52.55,130.50 52.93,130.72 53.32,130.94 53.71,131.18 54.09,131.42 54.48,131.67 54.86,131.93 55.25,132.19 55.63,132.46 56.02,132.74 56.41,133.02 56.79,133.31 57.18,133.61 57.56,133.91 57.95,134.21 58.34,134.53 58.72,134.84 59.11,135.16 59.49,135.49 59.88,135.81 60.26,136.15 60.65,136.48 61.04,136.82 61.42,137.17 61.81,137.51 62.19,137.86 62.58,138.21 62.96,138.57 63.35,138.93 63.74,139.29 64.12,139.65 64.51,140.01 64.89,140.38 65.28,140.75 65.66,141.12 66.05,141.49 66.44,141.86 66.82,142.24 67.21,142.61 67.59,142.99 67.98,143.36 68.37,143.74 68.75,144.12 69.14,144.50 69.52,144.88 69.91,145.26 70.29,145.64 70.68,146.02 71.07,146.40 71.45,146.79 71.84,147.17 72.22,147.55 72.61,147.93 72.99,148.31 73.38,148.69 73.77,149.07 74.15,149.45 74.54,149.83 74.92,150.21 75.31,150.59 75.70,150.97 76.08,151.34 76.47,151.72 76.85,152.09 77.24,152.47 77.62,152.84 78.01,153.21 78.40,153.58 78.78,153.95 79.17,154.32 79.55,154.69 79.94,155.05 80.32,155.42 80.71,155.78 81.10,156.14 81.48,156.50 81.87,156.86 82.25,157.22 82.64,157.57 83.03,157.93 83.41,158.28 83.80,158.63 84.18,158.98 84.57,159.33 84.95,159.67 85.34,160.02 85.73,160.36 86.11,160.70 86.50,161.04 86.88,161.37 87.27,161.71 87.65,162.04 88.04,162.37 88.43,162.70 88.81,163.03 89.20,163.35 89.58,163.68 89.97,164.00 90.36,164.32 90.74,164.63 91.13,164.95 91.51,165.26 91.90,165.57 92.28,165.88 92.67,166.19 93.06,166.49 93.44,166.79 93.83,167.09 94.21,167.39 94.60,167.69 94.98,167.98 95.37,168.27 95.76,168.56 96.14,168.85 96.53,169.14 96.91,169.42 97.30,169.70 97.68,169.98 98.07,170.26 98.46,170.53 98.84,170.80 99.23,171.07 99.61,171.34 100.00,171.61 100.39,171.87 100.77,172.13 101.16,172.39 101.54,172.65 101.93,172.91 102.31,173.16 102.70,173.41 103.09,173.66 103.47,173.91 103.86,174.15 104.24,174.39 104.63,174.63 105.01,174.87 105.40,175.11 105.79,175.34 106.17,175.57 106.56,175.80 106.94,176.03 107.33,176.26 107.72,176.48 108.10,176.70 108.49,176.92 108.87,177.14 109.26,177.35 109.64,177.57 110.03,177.78 110.42,177.99 110.80,178.20 111.19,178.40 111.57,178.61 111.96,178.81 112.34,179.01 112.73,179.21 113.12,179.40 113.50,179.60 113.89,179.79 114.27,179.98 114.66,180.17 115.05,180.35 115.43,180.54 115.82,180.72 116.20,180.90 116.59,181.08 116.97,181.26 117.36,181.43 117.75,181.61 118.13,181.78 118.52,181.95 118.90,182.12 119.29,182.28 119.67,182.45 120.06,182.61 120.45,182.77 120.83,182.93 121.22,183.09 121.60,183.24 121.99,183.40 122.37,183.55 122.76,183.70 123.15,183.85 123.53,184.00 123.92,184.15 124.30,184.29 124.69,184.44 125.08,184.58 125.46,184.72 125.85,184.86 126.23,184.99 126.62,185.13 127.00,185.26 127.39,185.39 127.78,185.53 128.16,185.66 128.55,185.78 128.93,185.91 129.32,186.04 129.70,186.16 130.09,186.28 130.48,186.40 130.86,186.52 131.25,186.64 131.63,186.76 132.02,186.87 132.41,186.99 132.79,187.10 133.18,187.21 133.56,187.32 133.95,187.43 134.33,187.54 134.72,187.65 135.11,187.75 135.49,187.85 135.88,187.96 136.26,188.06 136.65,188.16 137.03,188.26 137.42,188.36 137.81,188.45 138.19,188.55 138.58,188.64 138.96,188.74 139.35,188.83 139.74,188.92 140.12,189.01 140.51,189.10 140.89,189.19 141.28,189.27 141.66,189.36 142.05,189.44 142.44,189.53 142.82,189.61 143.21,189.69 143.59,189.77 143.98,189.85 144.36,189.93 144.75,190.01 145.14,190.08 145.52,190.16 145.91,190.23 146.29,190.31 146.68,190.38 147.06,190.45 147.45,190.52 147.84,190.59 148.22,190.66 148.61,190.73 148.99,190.80 149.38,190.86 149.77,190.93 150.15,190.99 150.54,191.06 150.92,191.12 151.31,191.18 151.69,191.24 152.08,191.31 152.47,191.37 152.85,191.42 153.24,191.48 153.62,191.54 154.01,191.60 154.39,191.65 154.78,191.71 155.17,191.76 155.55,191.82 155.94,191.87 156.32,191.92 156.71,191.98 157.10,192.03 157.48,192.08 157.87,192.13 158.25,192.18 158.64,192.22 159.02,192.27 159.41,192.32 159.80,192.37 160.18,192.41 160.57,192.46 160.95,192.50 161.34,192.55 161.72,192.59 162.11,192.63 162.50,192.67 162.88,192.72 163.27,192.76 163.65,192.80 164.04,192.84 164.43,192.88 164.81,192.92 165.20,192.96 165.58,192.99 165.97,193.03 166.35,193.07 166.74,193.10 167.13,193.14 167.51,193.17 167.90,193.21 168.28,193.24 168.67,193.28 169.05,193.31 169.44,193.34 169.83,193.38 170.21,193.41 170.60,193.44 170.98,193.47 171.37,193.50 171.76,193.53 172.14,193.56 172.53,193.59 172.91,193.62 173.30,193.65 173.68,193.68 174.07,193.71 174.46,193.73 174.84,193.76 175.23,193.79 175.61,193.81 176.00,193.84 176.38,193.86 176.77,193.89 177.16,193.91 177.54,193.94 177.93,193.96 178.31,193.99 178.70,194.01 179.08,194.03 179.47,194.06 179.86,194.08 180.24,194.10 180.63,194.12 181.01,194.14 181.40,194.16 181.79,194.19 182.17,194.21 182.56,194.23 182.94,194.25 183.33,194.27 183.71,194.28 184.10,194.30 184.49,194.32 184.87,194.34 185.26,194.36 185.64,194.38 186.03,194.39 186.41,194.41 186.80,194.43 187.19,194.45 187.57,194.46 187.96,194.48 188.34,194.50 188.73,194.51 189.12,194.53 189.50,194.54 189.89,194.56 190.27,194.57 190.66,194.59 191.04,194.60 191.43,194.62 191.82,194.63 192.20,194.64 192.59,194.66 192.97,194.67 193.36,194.68 193.74,194.70 194.13,194.71 194.52,194.72 194.90,194.74 195.29,194.75 195.67,194.76 196.06,194.77 196.45,194.78 196.83,194.80 197.22,194.81 197.60,194.82 197.99,194.83 198.37,194.84 198.76,194.85 199.15,194.86 199.53,194.87 199.92,194.88 200.30,194.89 200.69,194.90 201.07,194.91 201.46,194.92 201.85,194.93 202.23,194.94 202.62,194.95 203.00,194.96 203.39,194.97 203.77,194.98 204.16,194.98 204.55,194.99 204.93,195.00 205.32,195.01 205.70,195.02 206.09,195.03 206.48,195.03 206.86,195.04 207.25,195.05 207.63,195.06 208.02,195.06 208.40,195.07 208.79,195.08 209.18,195.08 209.56,195.09 209.95,195.10 210.33,195.11 210.72,195.11 211.10,195.12 211.49,195.12 211.88,195.13 212.26,195.14 212.65,195.14 213.03,195.15 213.42,195.15 213.81,195.16 214.19,195.17 214.58,195.17 214.96,195.18 215.35,195.18 215.73,195.19 216.12,195.19 216.51,195.20 216.89,195.20 217.28,195.21 217.66,195.21 218.05,195.22 218.43,195.22 218.82,195.23 219.21,195.23 219.59,195.24 219.98,195.24 220.36,195.25 220.75,195.25 221.14,195.25 221.52,195.26 221.91,195.26 222.29,195.27 222.68,195.27 223.06,195.27 223.45,195.28 223.84,195.28 224.22,195.29 224.61,195.29 224.99,195.29 225.38,195.30 225.76,195.30 226.15,195.30 226.54,195.31 226.92,195.31 227.31,195.31 227.69,195.32 228.08,195.32 228.46,195.32 228.85,195.33 229.24,195.33 229.62,195.33 230.01,195.34 230.39,195.34 230.78,195.34 231.17,195.34 231.55,195.35 231.94,195.35 232.32,195.35 232.71,195.35 233.09,195.36 233.48,195.36 233.87,195.36 234.25,195.36 234.64,195.37 235.02,195.37 235.41,195.37 235.79,195.37 236.18,195.38 236.57,195.38 236.95,195.38 237.34,195.38 237.72,195.38 238.11,195.39 238.50,195.39 238.88,195.39 239.27,195.39 239.65,195.39 240.04,195.40 240.42,195.40 240.81,195.40 241.20,195.40 241.58,195.40 241.97,195.40 242.35,195.41 242.74,195.41 243.12,195.41 243.51,195.41 243.90,195.41 244.28,195.41 244.67,195.42 245.05,195.42 245.44,195.42 245.83,195.42 246.21,195.42 246.60,195.42 246.98,195.42 247.37,195.43 247.75,195.43 248.14,195.43 248.53,195.43 248.91,195.43 249.30,195.43 249.68,195.43 250.07,195.43 250.45,195.44 250.84,195.44 251.23,195.44 251.61,195.44 252.00,195.44 252.38,195.44 252.77,195.44 253.15,195.44 253.54,195.44 253.93,195.45 254.31,195.45 254.70,195.45 255.08,195.45 255.47,195.45 255.86,195.45 256.24,195.45 256.63,195.45 257.01,195.45 257.40,195.45 257.78,195.45 258.17,195.46 258.56,195.46 258.94,195.46 259.33,195.46 259.71,195.46 260.10,195.46 260.48,195.46 260.87,195.46 261.26,195.46 261.64,195.46 262.03,195.46 262.41,195.46 262.80,195.46 263.19,195.46 263.57,195.47 263.96,195.47 264.34,195.47 264.73,195.47 265.11,195.47 265.50,195.47" stroke="#a23db6" stroke-dasharray="5.3 5.13" stroke-dashoffset="1.38"/>
</g>
<g font-family='"Liberation Sans", Arial, Helvetica, sans-serif' font-size="7.5" fill="#383838" stroke="#383838" stroke-width="0.1">
<text x="30.50" y="206.50" text-anchor="middle">0</text>
<text x="69.67" y="206.50" text-anchor="middle">0.5</text>
<text x="108.83" y="206.50" text-anchor="middle">1</text>
<text x="148.00" y="206.50" text-anchor="middle">1.5</text>
<text x="187.17" y="206.50" text-anchor="middle">2</text>
<text x="226.33" y="206.50" text-anchor="middle">2.5</text>
<text x="265.50" y="206.50" text-anchor="middle">3</text>
<text x="27.00" y="198.60" text-anchor="end">0</text>
<text x="27.00" y="172.17" text-anchor="end">0.5</text>
<text x="27.00" y="145.74" text-anchor="end">1</text>
<text x="27.00" y="119.31" text-anchor="end">1.5</text>
<text x="27.00" y="92.89" text-anchor="end">2</text>
<text x="27.00" y="66.46" text-anchor="end">2.5</text>
<text x="27.00" y="40.03" text-anchor="end">3</text>
<text x="27.00" y="13.60" text-anchor="end">3.5</text>
</g>
<text x="148.00" y="217" text-anchor="middle" font-family='"Liberation Sans", Arial, Helvetica, sans-serif' font-size="7.9" fill="#383838" stroke="#383838" stroke-width="0.1">HSR21pMIN</text>
<text transform="translate(12.50,104.30) rotate(-90)" text-anchor="middle" font-family='"Liberation Sans", Arial, Helvetica, sans-serif' font-size="7.9" fill="#383838" stroke="#383838" stroke-width="0.1">HSR21pMIN Probability Density</text>
<rect x="200.50" y="18" width="57.40" height="38" fill="#fff" stroke="#555" stroke-width="0.5"/>
<line x1="204.80" y1="23.60" x2="226.50" y2="23.60" stroke="#0a78c8" stroke-width="1.6"/>
<text x="228.30" y="25.90" font-family='"Liberation Sans", Arial, Helvetica, sans-serif' font-size="6.5" fill="#383838" stroke="#383838" stroke-width="0.1">CF 14-15</text>
<line x1="204.80" y1="32.80" x2="226.50" y2="32.80" stroke="#f66a32" stroke-width="1.6" stroke-dasharray="1.6 0.95"/>
<text x="228.30" y="35.10" font-family='"Liberation Sans", Arial, Helvetica, sans-serif' font-size="6.5" fill="#383838" stroke="#383838" stroke-width="0.1">CF 15-16</text>
<line x1="204.80" y1="42.00" x2="226.50" y2="42.00" stroke="#f8b826" stroke-width="1.6"/>
<text x="228.30" y="44.30" font-family='"Liberation Sans", Arial, Helvetica, sans-serif' font-size="6.5" fill="#383838" stroke="#383838" stroke-width="0.1">CF 16-17</text>
<line x1="204.80" y1="51.20" x2="226.50" y2="51.20" stroke="#a23db6" stroke-width="1.6" stroke-dasharray="5.3 5.13"/>
<text x="228.30" y="53.50" font-family='"Liberation Sans", Arial, Helvetica, sans-serif' font-size="6.5" fill="#383838" stroke="#383838" stroke-width="0.1">CF 17-18</text>
<rect x="280" y="3" width="267" height="218" fill="#f0f0f0"/>
<rect x="279.5" y="221" width="267.5" height="1" fill="#80b9ea"/>
<rect x="305.5" y="10.5" width="235" height="185" fill="#fff"/>
<g stroke="#555" stroke-width="0.5" fill="none">
<rect x="305.5" y="10.5" width="235" height="185"/>
<path d="M344.67 195.5v-2.4M344.67 10.5v2.4"/>
<path d="M383.83 195.5v-2.4M383.83 10.5v2.4"/>
<path d="M423.00 195.5v-2.4M423.00 10.5v2.4"/>
<path d="M462.17 195.5v-2.4M462.17 10.5v2.4"/>
<path d="M501.33 195.5v-2.4M501.33 10.5v2.4"/>
<path d="M305.5 164.67h2.4M540.5 164.67h-2.4"/>
<path d="M305.5 133.83h2.4M540.5 133.83h-2.4"/>
<path d="M305.5 103.00h2.4M540.5 103.00h-2.4"/>
<path d="M305.5 72.17h2.4M540.5 72.17h-2.4"/>
<path d="M305.5 41.33h2.4M540.5 41.33h-2.4"/>
</g>
<g fill="none" stroke-width="1.6" stroke-linejoin="round">
<polyline points="305.50,195.50 305.52,195.45 305.54,195.40 305.56,195.34 305.58,195.28 305.60,195.22 305.62,195.15 305.64,195.09 305.66,195.02 305.68,194.96 305.70,194.89 305.72,194.82 305.74,194.76 305.76,194.69 305.78,194.62 305.80,194.55 305.81,194.48 305.83,194.41 305.85,194.34 305.87,194.27 305.89,194.20 305.91,194.12 305.93,194.05 305.95,193.98 305.97,193.91 305.99,193.83 306.01,193.76 306.03,193.69 306.05,193.61 306.07,193.54 306.09,193.46 306.11,193.39 306.13,193.31 306.15,193.24 306.17,193.16 306.19,193.09 306.21,193.01 306.23,192.94 306.25,192.86 306.27,192.78 306.29,192.71 306.31,192.63 306.33,192.55 306.35,192.47 306.37,192.40 306.39,192.32 306.41,192.24 306.43,192.16 306.44,192.09 306.46,192.01 306.48,191.93 306.50,191.85 306.52,191.77 306.54,191.69 306.56,191.61 306.58,191.53 306.60,191.46 306.62,191.38 306.64,191.30 306.66,191.22 306.68,191.14 306.70,191.06 306.72,190.98 306.74,190.90 306.76,190.82 306.78,190.74 306.80,190.65 306.82,190.57 306.84,190.49 306.86,190.41 306.88,190.33 306.90,190.25 306.92,190.17 306.94,190.09 306.96,190.01 306.98,189.92 307.00,189.84 307.02,189.76 307.04,189.68 307.05,189.60 307.07,189.51 307.09,189.43 307.11,189.35 307.13,189.27 307.15,189.18 307.17,189.10 307.19,189.02 307.21,188.94 307.23,188.85 307.25,188.77 307.27,188.69 307.29,188.60 307.31,188.52 307.33,188.44 307.35,188.35 307.37,188.27 307.39,188.19 307.41,188.10 307.43,188.02 307.45,187.93 307.47,187.85 307.49,187.77 307.51,187.68 307.53,187.60 307.55,187.51 307.57,187.43 307.59,187.34 307.61,187.26 307.63,187.18 307.65,187.09 307.66,187.01 307.68,186.92 307.70,186.84 307.72,186.75 307.74,186.67 307.76,186.58 307.78,186.50 307.80,186.41 307.82,186.33 307.84,186.24 307.86,186.15 307.88,186.07 307.90,185.98 307.92,185.90 307.94,185.81 307.96,185.73 307.98,185.64 308.00,185.55 308.02,185.47 308.04,185.38 308.06,185.30 308.08,185.21 308.10,185.12 308.12,185.04 308.14,184.95 308.16,184.86 308.18,184.78 308.20,184.69 308.22,184.60 308.24,184.52 308.26,184.43 308.28,184.34 308.29,184.26 308.31,184.17 308.33,184.08 308.35,184.00 308.37,183.91 308.39,183.82 308.41,183.74 308.43,183.65 308.45,183.56 308.47,183.47 308.49,183.39 308.51,183.30 308.53,183.21 308.55,183.12 308.57,183.04 308.59,182.95 308.61,182.86 308.63,182.77 308.65,182.69 308.67,182.60 308.69,182.51 308.71,182.42 308.73,182.33 308.75,182.25 308.77,182.16 308.79,182.07 308.81,181.98 308.83,181.89 308.85,181.80 308.87,181.72 308.89,181.63 308.90,181.54 308.92,181.45 308.94,181.36 308.96,181.27 308.98,181.19 309.00,181.10 309.02,181.01 309.04,180.92 309.06,180.83 309.08,180.74 309.10,180.65 309.12,180.56 309.14,180.48 309.16,180.39 309.18,180.30 309.20,180.21 309.22,180.12 309.24,180.03 309.26,179.94 309.28,179.85 309.30,179.76 309.32,179.67 309.34,179.58 309.36,179.49 309.38,179.41 309.40,179.32 309.42,179.23 309.42,179.23 309.80,177.46 310.19,175.69 310.57,173.91 310.96,172.11 311.35,170.31 311.73,168.49 312.12,166.68 312.50,164.85 312.89,163.02 313.27,161.19 313.66,159.35 314.05,157.52 314.43,155.68 314.82,153.83 315.20,151.99 315.59,150.15 315.97,148.31 316.36,146.48 316.75,144.64 317.13,142.81 317.52,140.98 317.90,139.15 318.29,137.33 318.68,135.52 319.06,133.71 319.45,131.90 319.83,130.11 320.22,128.32 320.60,126.53 320.99,124.76 321.38,122.99 321.76,121.24 322.15,119.49 322.53,117.75 322.92,116.02 323.30,114.31 323.69,112.60 324.08,110.91 324.46,109.23 324.85,107.56 325.23,105.90 325.62,104.26 326.01,102.63 326.39,101.01 326.78,99.41 327.16,97.82 327.55,96.25 327.93,94.70 328.32,93.16 328.71,91.63 329.09,90.13 329.48,88.63 329.86,87.16 330.25,85.70 330.63,84.27 331.02,82.84 331.41,81.44 331.79,80.06 332.18,78.69 332.56,77.35 332.95,76.02 333.34,74.71 333.72,73.43 334.11,72.16 334.49,70.91 334.88,69.69 335.26,68.48 335.65,67.30 336.04,66.13 336.42,64.99 336.81,63.87 337.19,62.78 337.58,61.70 337.96,60.65 338.35,59.61 338.74,58.60 339.12,57.62 339.51,56.65 339.89,55.71 340.28,54.79 340.66,53.90 341.05,53.03 341.44,52.18 341.82,51.35 342.21,50.55 342.59,49.77 342.98,49.02 343.37,48.29 343.75,47.58 344.14,46.89 344.52,46.23 344.91,45.60 345.29,44.99 345.68,44.40 346.07,43.83 346.45,43.29 346.84,42.78 347.22,42.28 347.61,41.81 347.99,41.37 348.38,40.95 348.77,40.55 349.15,40.18 349.54,39.83 349.92,39.50 350.31,39.20 350.70,38.92 351.08,38.66 351.47,38.43 351.85,38.22 352.24,38.03 352.62,37.87 353.01,37.73 353.40,37.61 353.78,37.51 354.17,37.44 354.55,37.39 354.94,37.36 355.32,37.35 355.71,37.37 356.10,37.41 356.48,37.47 356.87,37.55 357.25,37.65 357.64,37.77 358.03,37.92 358.41,38.08 358.80,38.27 359.18,38.47 359.57,38.70 359.95,38.94 360.34,39.21 360.73,39.49 361.11,39.80 361.50,40.12 361.88,40.46 362.27,40.82 362.65,41.20 363.04,41.60 363.43,42.01 363.81,42.44 364.20,42.89 364.58,43.36 364.97,43.85 365.36,44.35 365.74,44.86 366.13,45.40 366.51,45.95 366.90,46.51 367.28,47.09 367.67,47.68 368.06,48.29 368.44,48.92 368.83,49.56 369.21,50.21 369.60,50.88 369.98,51.56 370.37,52.25 370.76,52.96 371.14,53.67 371.53,54.40 371.91,55.15 372.30,55.90 372.68,56.67 373.07,57.44 373.46,58.23 373.84,59.03 374.23,59.84 374.61,60.66 375.00,61.49 375.39,62.32 375.77,63.17 376.16,64.03 376.54,64.89 376.93,65.76 377.31,66.64 377.70,67.53 378.09,68.43 378.47,69.33 378.86,70.24 379.24,71.16 379.63,72.08 380.01,73.01 380.40,73.95 380.79,74.89 381.17,75.83 381.56,76.78 381.94,77.74 382.33,78.70 382.72,79.66 383.10,80.63 383.49,81.60 383.87,82.58 384.26,83.56 384.64,84.54 385.03,85.52 385.42,86.51 385.80,87.50 386.19,88.49 386.57,89.48 386.96,90.47 387.34,91.47 387.73,92.46 388.12,93.46 388.50,94.45 388.89,95.45 389.27,96.45 389.66,97.45 390.05,98.44 390.43,99.44 390.82,100.43 391.20,101.43 391.59,102.42 391.97,103.41 392.36,104.40 392.75,105.39 393.13,106.38 393.52,107.36 393.90,108.35 394.29,109.33 394.67,110.30 395.06,111.28 395.45,112.25 395.83,113.22 396.22,114.18 396.60,115.14 396.99,116.10 397.37,117.05 397.76,118.00 398.15,118.95 398.53,119.89 398.92,120.83 399.30,121.76 399.69,122.69 400.08,123.61 400.46,124.53 400.85,125.44 401.23,126.35 401.62,127.25 402.00,128.15 402.39,129.04 402.78,129.93 403.16,130.81 403.55,131.68 403.93,132.55 404.32,133.41 404.70,134.27 405.09,135.12 405.48,135.97 405.86,136.81 406.25,137.64 406.63,138.46 407.02,139.28 407.41,140.10 407.79,140.90 408.18,141.70 408.56,142.49 408.95,143.28 409.33,144.06 409.72,144.83 410.11,145.60 410.49,146.35 410.88,147.10 411.26,147.85 411.65,148.59 412.03,149.32 412.42,150.04 412.81,150.75 413.19,151.46 413.58,152.16 413.96,152.86 414.35,153.54 414.74,154.22 415.12,154.90 415.51,155.56 415.89,156.22 416.28,156.87 416.66,157.51 417.05,158.15 417.44,158.78 417.82,159.40 418.21,160.01 418.59,160.62 418.98,161.22 419.36,161.81 419.75,162.40 420.14,162.98 420.52,163.55 420.91,164.11 421.29,164.67 421.68,165.22 422.06,165.76 422.45,166.30 422.84,166.82 423.22,167.34 423.61,167.86 423.99,168.37 424.38,168.87 424.77,169.36 425.15,169.85 425.54,170.33 425.92,170.80 426.31,171.27 426.69,171.73 427.08,172.18 427.47,172.63 427.85,173.07 428.24,173.50 428.62,173.93 429.01,174.35 429.39,174.77 429.78,175.17 430.17,175.58 430.55,175.97 430.94,176.36 431.32,176.75 431.71,177.12 432.10,177.49 432.48,177.86 432.87,178.22 433.25,178.57 433.64,178.92 434.02,179.27 434.41,179.60 434.80,179.93 435.18,180.26 435.57,180.58 435.95,180.89 436.34,181.20 436.72,181.51 437.11,181.81 437.50,182.10 437.88,182.39 438.27,182.67 438.65,182.95 439.04,183.23 439.43,183.49 439.81,183.76 440.20,184.02 440.58,184.27 440.97,184.52 441.35,184.77 441.74,185.01 442.13,185.24 442.51,185.48 442.90,185.70 443.28,185.93 443.67,186.14 444.05,186.36 444.44,186.57 444.83,186.78 445.21,186.98 445.60,187.18 445.98,187.37 446.37,187.56 446.76,187.75 447.14,187.93 447.53,188.11 447.91,188.29 448.30,188.46 448.68,188.63 449.07,188.79 449.46,188.96 449.84,189.12 450.23,189.27 450.61,189.42 451.00,189.57 451.38,189.72 451.77,189.86 452.16,190.00 452.54,190.14 452.93,190.27 453.31,190.40 453.70,190.53 454.08,190.65 454.47,190.78 454.86,190.90 455.24,191.01 455.63,191.13 456.01,191.24 456.40,191.35 456.79,191.46 457.17,191.56 457.56,191.66 457.94,191.76 458.33,191.86 458.71,191.96 459.10,192.05 459.49,192.14 459.87,192.23 460.26,192.32 460.64,192.40 461.03,192.48 461.41,192.57 461.80,192.64 462.19,192.72 462.57,192.80 462.96,192.87 463.34,192.94 463.73,193.01 464.12,193.08 464.50,193.15 464.89,193.21 465.27,193.28 465.66,193.34 466.04,193.40 466.43,193.46 466.82,193.51 467.20,193.57 467.59,193.62 467.97,193.68 468.36,193.73 468.74,193.78 469.13,193.83 469.52,193.88 469.90,193.92 470.29,193.97 470.67,194.01 471.06,194.06 471.45,194.10 471.83,194.14 472.22,194.18 472.60,194.22 472.99,194.25 473.37,194.29 473.76,194.33 474.15,194.36 474.53,194.40 474.92,194.43 475.30,194.46 475.69,194.49 476.07,194.52 476.46,194.55 476.85,194.58 477.23,194.61 477.62,194.64 478.00,194.66 478.39,194.69 478.77,194.71 479.16,194.74 479.55,194.76 479.93,194.78 480.32,194.81 480.70,194.83 481.09,194.85 481.48,194.87 481.86,194.89 482.25,194.91 482.63,194.93 483.02,194.94 483.40,194.96 483.79,194.98 484.18,195.00 484.56,195.01 484.95,195.03 485.33,195.04 485.72,195.06 486.10,195.07 486.49,195.09 486.88,195.10 487.26,195.11 487.65,195.12 488.03,195.14 488.42,195.15 488.81,195.16 489.19,195.17 489.58,195.18 489.96,195.19 490.35,195.20 490.73,195.21 491.12,195.22 491.51,195.23 491.89,195.24 492.28,195.25 492.66,195.26 493.05,195.27 493.43,195.27 493.82,195.28 494.21,195.29 494.59,195.30 494.98,195.30 495.36,195.31 495.75,195.32 496.14,195.32 496.52,195.33 496.91,195.34 497.29,195.34 497.68,195.35 498.06,195.35 498.45,195.36 498.84,195.36 499.22,195.37 499.61,195.37 499.99,195.38 500.38,195.38 500.76,195.38 501.15,195.39 501.54,195.39 501.92,195.40 502.31,195.40 502.69,195.40 503.08,195.41 503.46,195.41 503.85,195.41 504.24,195.42 504.62,195.42 505.01,195.42 505.39,195.43 505.78,195.43 506.17,195.43 506.55,195.43 506.94,195.44 507.32,195.44 507.71,195.44 508.09,195.44 508.48,195.45 508.87,195.45 509.25,195.45 509.64,195.45 510.02,195.45 510.41,195.45 510.79,195.46 511.18,195.46 511.57,195.46 511.95,195.46 512.34,195.46 512.72,195.46 513.11,195.47 513.50,195.47 513.88,195.47 514.27,195.47 514.65,195.47 515.04,195.47 515.42,195.47 515.81,195.47 516.20,195.47 516.58,195.48 516.97,195.48 517.35,195.48 517.74,195.48 518.12,195.48 518.51,195.48 518.90,195.48 519.28,195.48 519.67,195.48 520.05,195.48 520.44,195.48 520.83,195.48 521.21,195.49 521.60,195.49 521.98,195.49 522.37,195.49 522.75,195.49 523.14,195.49 523.53,195.49 523.91,195.49 524.30,195.49 524.68,195.49 525.07,195.49 525.45,195.49 525.84,195.49 526.23,195.49 526.61,195.49 527.00,195.49 527.38,195.49 527.77,195.49 528.15,195.49 528.54,195.49 528.93,195.49 529.31,195.49 529.70,195.49 530.08,195.49 530.47,195.49 530.86,195.49 531.24,195.49 531.63,195.50 532.01,195.50 532.40,195.50 532.78,195.50 533.17,195.50 533.56,195.50 533.94,195.50 534.33,195.50 534.71,195.50 535.10,195.50 535.48,195.50 535.87,195.50 536.26,195.50 536.64,195.50 537.03,195.50 537.41,195.50 537.80,195.50 538.19,195.50 538.57,195.50 538.96,195.50 539.34,195.50 539.73,195.50 540.11,195.50 540.50,195.50" stroke="#0a78c8"/>
<polyline points="305.50,195.50 305.52,195.43 305.54,195.37 305.56,195.30 305.58,195.24 305.60,195.17 305.62,195.10 305.64,195.04 305.66,194.97 305.68,194.91 305.70,194.84 305.72,194.78 305.74,194.71 305.76,194.65 305.78,194.58 305.80,194.52 305.81,194.45 305.83,194.39 305.85,194.32 305.87,194.26 305.89,194.19 305.91,194.13 305.93,194.07 305.95,194.00 305.97,193.94 305.99,193.87 306.01,193.81 306.03,193.74 306.05,193.68 306.07,193.61 306.09,193.55 306.11,193.49 306.13,193.42 306.15,193.36 306.17,193.29 306.19,193.23 306.21,193.16 306.23,193.10 306.25,193.04 306.27,192.97 306.29,192.91 306.31,192.84 306.33,192.78 306.35,192.71 306.37,192.65 306.39,192.59 306.41,192.52 306.43,192.46 306.44,192.39 306.46,192.33 306.48,192.27 306.50,192.20 306.52,192.14 306.54,192.07 306.56,192.01 306.58,191.95 306.60,191.88 306.62,191.82 306.64,191.75 306.66,191.69 306.68,191.63 306.70,191.56 306.72,191.50 306.74,191.43 306.76,191.37 306.78,191.31 306.80,191.24 306.82,191.18 306.84,191.11 306.86,191.05 306.88,190.99 306.90,190.92 306.92,190.86 306.94,190.80 306.96,190.73 306.98,190.67 307.00,190.60 307.02,190.54 307.04,190.48 307.05,190.41 307.07,190.35 307.09,190.29 307.11,190.22 307.13,190.16 307.15,190.09 307.17,190.03 307.19,189.97 307.21,189.90 307.23,189.84 307.25,189.78 307.27,189.71 307.29,189.65 307.31,189.58 307.33,189.52 307.35,189.46 307.37,189.39 307.39,189.33 307.41,189.27 307.43,189.20 307.45,189.14 307.47,189.08 307.49,189.01 307.51,188.95 307.53,188.88 307.55,188.82 307.57,188.76 307.59,188.69 307.61,188.63 307.63,188.57 307.65,188.50 307.66,188.44 307.68,188.38 307.70,188.31 307.72,188.25 307.74,188.19 307.76,188.12 307.78,188.06 307.80,188.00 307.82,187.93 307.84,187.87 307.86,187.81 307.88,187.74 307.90,187.68 307.92,187.62 307.94,187.55 307.96,187.49 307.98,187.43 308.00,187.36 308.02,187.30 308.04,187.24 308.06,187.17 308.08,187.11 308.10,187.05 308.12,186.98 308.14,186.92 308.16,186.86 308.18,186.79 308.20,186.73 308.22,186.67 308.24,186.60 308.26,186.54 308.28,186.48 308.29,186.41 308.31,186.35 308.33,186.29 308.35,186.22 308.37,186.16 308.39,186.10 308.41,186.03 308.43,185.97 308.45,185.91 308.47,185.84 308.49,185.78 308.51,185.72 308.53,185.65 308.55,185.59 308.57,185.53 308.59,185.46 308.61,185.40 308.63,185.34 308.65,185.27 308.67,185.21 308.69,185.15 308.71,185.09 308.73,185.02 308.75,184.96 308.77,184.90 308.79,184.83 308.81,184.77 308.83,184.71 308.85,184.64 308.87,184.58 308.89,184.52 308.90,184.45 308.92,184.39 308.94,184.33 308.96,184.27 308.98,184.20 309.00,184.14 309.02,184.08 309.04,184.01 309.06,183.95 309.08,183.89 309.10,183.82 309.12,183.76 309.14,183.70 309.16,183.64 309.18,183.57 309.20,183.51 309.22,183.45 309.24,183.38 309.26,183.32 309.28,183.26 309.30,183.19 309.32,183.13 309.34,183.07 309.36,183.01 309.38,182.94 309.40,182.88 309.42,182.82 309.42,182.82 309.80,181.59 310.19,180.36 310.57,179.13 310.96,177.91 311.35,176.69 311.73,175.47 312.12,174.26 312.50,173.05 312.89,171.84 313.27,170.64 313.66,169.44 314.05,168.24 314.43,167.05 314.82,165.86 315.20,164.67 315.59,163.49 315.97,162.31 316.36,161.14 316.75,159.97 317.13,158.81 317.52,157.65 317.90,156.49 318.29,155.35 318.68,154.20 319.06,153.06 319.45,151.93 319.83,150.80 320.22,149.67 320.60,148.56 320.99,147.44 321.38,146.34 321.76,145.24 322.15,144.14 322.53,143.05 322.92,141.97 323.30,140.90 323.69,139.83 324.08,138.76 324.46,137.71 324.85,136.66 325.23,135.61 325.62,134.58 326.01,133.55 326.39,132.53 326.78,131.52 327.16,130.51 327.55,129.51 327.93,128.52 328.32,127.53 328.71,126.56 329.09,125.59 329.48,124.63 329.86,123.68 330.25,122.73 330.63,121.80 331.02,120.87 331.41,119.95 331.79,119.04 332.18,118.14 332.56,117.24 332.95,116.36 333.34,115.48 333.72,114.61 334.11,113.75 334.49,112.91 334.88,112.06 335.26,111.23 335.65,110.41 336.04,109.60 336.42,108.79 336.81,108.00 337.19,107.21 337.58,106.44 337.96,105.67 338.35,104.92 338.74,104.17 339.12,103.43 339.51,102.71 339.89,101.99 340.28,101.28 340.66,100.58 341.05,99.90 341.44,99.22 341.82,98.55 342.21,97.89 342.59,97.25 342.98,96.61 343.37,95.98 343.75,95.37 344.14,94.76 344.52,94.16 344.91,93.58 345.29,93.00 345.68,92.43 346.07,91.88 346.45,91.33 346.84,90.80 347.22,90.28 347.61,89.76 347.99,89.26 348.38,88.77 348.77,88.29 349.15,87.81 349.54,87.35 349.92,86.90 350.31,86.46 350.70,86.03 351.08,85.61 351.47,85.20 351.85,84.81 352.24,84.42 352.62,84.04 353.01,83.67 353.40,83.32 353.78,82.97 354.17,82.64 354.55,82.31 354.94,82.00 355.32,81.69 355.71,81.40 356.10,81.12 356.48,80.84 356.87,80.58 357.25,80.33 357.64,80.08 358.03,79.85 358.41,79.63 358.80,79.42 359.18,79.22 359.57,79.03 359.95,78.84 360.34,78.67 360.73,78.51 361.11,78.36 361.50,78.22 361.88,78.09 362.27,77.97 362.65,77.85 363.04,77.75 363.43,77.66 363.81,77.58 364.20,77.50 364.58,77.44 364.97,77.39 365.36,77.34 365.74,77.31 366.13,77.28 366.51,77.26 366.90,77.26 367.28,77.26 367.67,77.27 368.06,77.29 368.44,77.32 368.83,77.36 369.21,77.40 369.60,77.46 369.98,77.53 370.37,77.60 370.76,77.68 371.14,77.77 371.53,77.87 371.91,77.98 372.30,78.09 372.68,78.22 373.07,78.35 373.46,78.49 373.84,78.64 374.23,78.79 374.61,78.96 375.00,79.13 375.39,79.31 375.77,79.50 376.16,79.69 376.54,79.90 376.93,80.11 377.31,80.32 377.70,80.55 378.09,80.78 378.47,81.02 378.86,81.27 379.24,81.52 379.63,81.78 380.01,82.05 380.40,82.32 380.79,82.60 381.17,82.89 381.56,83.18 381.94,83.48 382.33,83.79 382.72,84.10 383.10,84.42 383.49,84.75 383.87,85.08 384.26,85.41 384.64,85.76 385.03,86.10 385.42,86.46 385.80,86.82 386.19,87.18 386.57,87.55 386.96,87.93 387.34,88.31 387.73,88.69 388.12,89.09 388.50,89.48 388.89,89.88 389.27,90.29 389.66,90.70 390.05,91.11 390.43,91.53 390.82,91.95 391.20,92.38 391.59,92.81 391.97,93.25 392.36,93.69 392.75,94.14 393.13,94.58 393.52,95.04 393.90,95.49 394.29,95.95 394.67,96.41 395.06,96.88 395.45,97.35 395.83,97.82 396.22,98.30 396.60,98.78 396.99,99.26 397.37,99.75 397.76,100.24 398.15,100.73 398.53,101.22 398.92,101.72 399.30,102.22 399.69,102.72 400.08,103.22 400.46,103.73 400.85,104.24 401.23,104.75 401.62,105.26 402.00,105.78 402.39,106.29 402.78,106.81 403.16,107.33 403.55,107.85 403.93,108.38 404.32,108.90 404.70,109.43 405.09,109.95 405.48,110.48 405.86,111.01 406.25,111.55 406.63,112.08 407.02,112.61 407.41,113.15 407.79,113.68 408.18,114.22 408.56,114.75 408.95,115.29 409.33,115.83 409.72,116.37 410.11,116.91 410.49,117.45 410.88,117.99 411.26,118.53 411.65,119.07 412.03,119.61 412.42,120.15 412.81,120.69 413.19,121.23 413.58,121.77 413.96,122.31 414.35,122.85 414.74,123.39 415.12,123.92 415.51,124.46 415.89,125.00 416.28,125.54 416.66,126.08 417.05,126.61 417.44,127.15 417.82,127.68 418.21,128.22 418.59,128.75 418.98,129.28 419.36,129.81 419.75,130.34 420.14,130.87 420.52,131.40 420.91,131.93 421.29,132.45 421.68,132.98 422.06,133.50 422.45,134.02 422.84,134.54 423.22,135.06 423.61,135.58 423.99,136.09 424.38,136.61 424.77,137.12 425.15,137.63 425.54,138.14 425.92,138.65 426.31,139.15 426.69,139.66 427.08,140.16 427.47,140.66 427.85,141.16 428.24,141.66 428.62,142.15 429.01,142.64 429.39,143.13 429.78,143.62 430.17,144.11 430.55,144.59 430.94,145.07 431.32,145.55 431.71,146.03 432.10,146.51 432.48,146.98 432.87,147.45 433.25,147.92 433.64,148.39 434.02,148.85 434.41,149.31 434.80,149.77 435.18,150.23 435.57,150.68 435.95,151.13 436.34,151.58 436.72,152.03 437.11,152.47 437.50,152.92 437.88,153.36 438.27,153.79 438.65,154.23 439.04,154.66 439.43,155.09 439.81,155.51 440.20,155.94 440.58,156.36 440.97,156.77 441.35,157.19 441.74,157.60 442.13,158.01 442.51,158.42 442.90,158.82 443.28,159.23 443.67,159.63 444.05,160.02 444.44,160.41 444.83,160.81 445.21,161.19 445.60,161.58 445.98,161.96 446.37,162.34 446.76,162.72 447.14,163.09 447.53,163.46 447.91,163.83 448.30,164.20 448.68,164.56 449.07,164.92 449.46,165.28 449.84,165.63 450.23,165.98 450.61,166.33 451.00,166.68 451.38,167.02 451.77,167.36 452.16,167.70 452.54,168.03 452.93,168.36 453.31,168.69 453.70,169.02 454.08,169.34 454.47,169.66 454.86,169.98 455.24,170.30 455.63,170.61 456.01,170.92 456.40,171.23 456.79,171.53 457.17,171.83 457.56,172.13 457.94,172.43 458.33,172.72 458.71,173.01 459.10,173.30 459.49,173.58 459.87,173.86 460.26,174.14 460.64,174.42 461.03,174.69 461.41,174.97 461.80,175.23 462.19,175.50 462.57,175.76 462.96,176.03 463.34,176.28 463.73,176.54 464.12,176.79 464.50,177.04 464.89,177.29 465.27,177.54 465.66,177.78 466.04,178.02 466.43,178.26 466.82,178.50 467.20,178.73 467.59,178.96 467.97,179.19 468.36,179.41 468.74,179.64 469.13,179.86 469.52,180.08 469.90,180.29 470.29,180.50 470.67,180.72 471.06,180.93 471.45,181.13 471.83,181.34 472.22,181.54 472.60,181.74 472.99,181.94 473.37,182.13 473.76,182.32 474.15,182.51 474.53,182.70 474.92,182.89 475.30,183.07 475.69,183.26 476.07,183.44 476.46,183.61 476.85,183.79 477.23,183.96 477.62,184.13 478.00,184.30 478.39,184.47 478.77,184.64 479.16,184.80 479.55,184.96 479.93,185.12 480.32,185.28 480.70,185.43 481.09,185.59 481.48,185.74 481.86,185.89 482.25,186.04 482.63,186.18 483.02,186.33 483.40,186.47 483.79,186.61 484.18,186.75 484.56,186.88 484.95,187.02 485.33,187.15 485.72,187.28 486.10,187.41 486.49,187.54 486.88,187.67 487.26,187.79 487.65,187.92 488.03,188.04 488.42,188.16 488.81,188.27 489.19,188.39 489.58,188.51 489.96,188.62 490.35,188.73 490.73,188.84 491.12,188.95 491.51,189.06 491.89,189.16 492.28,189.27 492.66,189.37 493.05,189.47 493.43,189.57 493.82,189.67 494.21,189.77 494.59,189.86 494.98,189.96 495.36,190.05 495.75,190.14 496.14,190.23 496.52,190.32 496.91,190.41 497.29,190.50 497.68,190.58 498.06,190.67 498.45,190.75 498.84,190.83 499.22,190.91 499.61,190.99 499.99,191.07 500.38,191.15 500.76,191.22 501.15,191.30 501.54,191.37 501.92,191.44 502.31,191.51 502.69,191.58 503.08,191.65 503.46,191.72 503.85,191.79 504.24,191.85 504.62,191.92 505.01,191.98 505.39,192.04 505.78,192.11 506.17,192.17 506.55,192.23 506.94,192.29 507.32,192.34 507.71,192.40 508.09,192.46 508.48,192.51 508.87,192.57 509.25,192.62 509.64,192.67 510.02,192.73 510.41,192.78 510.79,192.83 511.18,192.88 511.57,192.93 511.95,192.97 512.34,193.02 512.72,193.07 513.11,193.11 513.50,193.16 513.88,193.20 514.27,193.24 514.65,193.29 515.04,193.33 515.42,193.37 515.81,193.41 516.20,193.45 516.58,193.49 516.97,193.53 517.35,193.56 517.74,193.60 518.12,193.64 518.51,193.67 518.90,193.71 519.28,193.74 519.67,193.78 520.05,193.81 520.44,193.84 520.83,193.88 521.21,193.91 521.60,193.94 521.98,193.97 522.37,194.00 522.75,194.03 523.14,194.06 523.53,194.09 523.91,194.12 524.30,194.14 524.68,194.17 525.07,194.20 525.45,194.22 525.84,194.25 526.23,194.27 526.61,194.30 527.00,194.32 527.38,194.35 527.77,194.37 528.15,194.39 528.54,194.41 528.93,194.44 529.31,194.46 529.70,194.48 530.08,194.50 530.47,194.52 530.86,194.54 531.24,194.56 531.63,194.58 532.01,194.60 532.40,194.62 532.78,194.64 533.17,194.65 533.56,194.67 533.94,194.69 534.33,194.71 534.71,194.72 535.10,194.74 535.48,194.76 535.87,194.77 536.26,194.79 536.64,194.80 537.03,194.82 537.41,194.83 537.80,194.85 538.19,194.86 538.57,194.87 538.96,194.89 539.34,194.90 539.73,194.91 540.11,194.92 540.50,194.94" stroke="#f66a32" stroke-dasharray="1.6 0.95"/>
<polyline points="305.50,195.50 305.52,195.50 305.54,195.50 305.56,195.49 305.58,195.49 305.60,195.49 305.62,195.49 305.64,195.48 305.66,195.48 305.68,195.48 305.70,195.47 305.72,195.47 305.74,195.46 305.76,195.46 305.78,195.45 305.80,195.45 305.81,195.44 305.83,195.44 305.85,195.43 305.87,195.43 305.89,195.42 305.91,195.42 305.93,195.41 305.95,195.40 305.97,195.40 305.99,195.39 306.01,195.39 306.03,195.38 306.05,195.37 306.07,195.37 306.09,195.36 306.11,195.35 306.13,195.35 306.15,195.34 306.17,195.33 306.19,195.33 306.21,195.32 306.23,195.31 306.25,195.30 306.27,195.30 306.29,195.29 306.31,195.28 306.33,195.27 306.35,195.27 306.37,195.26 306.39,195.25 306.41,195.24 306.43,195.23 306.44,195.23 306.46,195.22 306.48,195.21 306.50,195.20 306.52,195.19 306.54,195.18 306.56,195.18 306.58,195.17 306.60,195.16 306.62,195.15 306.64,195.14 306.66,195.13 306.68,195.12 306.70,195.11 306.72,195.10 306.74,195.10 306.76,195.09 306.78,195.08 306.80,195.07 306.82,195.06 306.84,195.05 306.86,195.04 306.88,195.03 306.90,195.02 306.92,195.01 306.94,195.00 306.96,194.99 306.98,194.98 307.00,194.97 307.02,194.96 307.04,194.95 307.05,194.94 307.07,194.93 307.09,194.92 307.11,194.91 307.13,194.90 307.15,194.89 307.17,194.88 307.19,194.87 307.21,194.86 307.23,194.85 307.25,194.84 307.27,194.83 307.29,194.81 307.31,194.80 307.33,194.79 307.35,194.78 307.37,194.77 307.39,194.76 307.41,194.75 307.43,194.74 307.45,194.73 307.47,194.72 307.49,194.70 307.51,194.69 307.53,194.68 307.55,194.67 307.57,194.66 307.59,194.65 307.61,194.64 307.63,194.62 307.65,194.61 307.66,194.60 307.68,194.59 307.70,194.58 307.72,194.57 307.74,194.55 307.76,194.54 307.78,194.53 307.80,194.52 307.82,194.51 307.84,194.49 307.86,194.48 307.88,194.47 307.90,194.46 307.92,194.44 307.94,194.43 307.96,194.42 307.98,194.41 308.00,194.39 308.02,194.38 308.04,194.37 308.06,194.36 308.08,194.34 308.10,194.33 308.12,194.32 308.14,194.31 308.16,194.29 308.18,194.28 308.20,194.27 308.22,194.26 308.24,194.24 308.26,194.23 308.28,194.22 308.29,194.20 308.31,194.19 308.33,194.18 308.35,194.16 308.37,194.15 308.39,194.14 308.41,194.12 308.43,194.11 308.45,194.10 308.47,194.08 308.49,194.07 308.51,194.06 308.53,194.04 308.55,194.03 308.57,194.02 308.59,194.00 308.61,193.99 308.63,193.97 308.65,193.96 308.67,193.95 308.69,193.93 308.71,193.92 308.73,193.91 308.75,193.89 308.77,193.88 308.79,193.86 308.81,193.85 308.83,193.84 308.85,193.82 308.87,193.81 308.89,193.79 308.90,193.78 308.92,193.76 308.94,193.75 308.96,193.74 308.98,193.72 309.00,193.71 309.02,193.69 309.04,193.68 309.06,193.66 309.08,193.65 309.10,193.63 309.12,193.62 309.14,193.60 309.16,193.59 309.18,193.58 309.20,193.56 309.22,193.55 309.24,193.53 309.26,193.52 309.28,193.50 309.30,193.49 309.32,193.47 309.34,193.46 309.36,193.44 309.38,193.43 309.40,193.41 309.42,193.40 309.42,193.40 309.80,193.09 310.19,192.78 310.57,192.45 310.96,192.11 311.35,191.76 311.73,191.41 312.12,191.04 312.50,190.66 312.89,190.27 313.27,189.88 313.66,189.48 314.05,189.06 314.43,188.65 314.82,188.22 315.20,187.78 315.59,187.34 315.97,186.89 316.36,186.44 316.75,185.97 317.13,185.51 317.52,185.03 317.90,184.55 318.29,184.06 318.68,183.57 319.06,183.07 319.45,182.56 319.83,182.05 320.22,181.54 320.60,181.01 320.99,180.49 321.38,179.96 321.76,179.42 322.15,178.88 322.53,178.33 322.92,177.78 323.30,177.23 323.69,176.67 324.08,176.10 324.46,175.54 324.85,174.96 325.23,174.39 325.62,173.81 326.01,173.22 326.39,172.64 326.78,172.05 327.16,171.45 327.55,170.86 327.93,170.26 328.32,169.65 328.71,169.05 329.09,168.44 329.48,167.82 329.86,167.21 330.25,166.59 330.63,165.97 331.02,165.35 331.41,164.72 331.79,164.10 332.18,163.47 332.56,162.83 332.95,162.20 333.34,161.56 333.72,160.93 334.11,160.29 334.49,159.65 334.88,159.00 335.26,158.36 335.65,157.71 336.04,157.07 336.42,156.42 336.81,155.77 337.19,155.12 337.58,154.47 337.96,153.82 338.35,153.16 338.74,152.51 339.12,151.86 339.51,151.20 339.89,150.55 340.28,149.89 340.66,149.24 341.05,148.58 341.44,147.93 341.82,147.27 342.21,146.61 342.59,145.96 342.98,145.30 343.37,144.65 343.75,143.99 344.14,143.34 344.52,142.69 344.91,142.03 345.29,141.38 345.68,140.73 346.07,140.08 346.45,139.43 346.84,138.79 347.22,138.14 347.61,137.49 347.99,136.85 348.38,136.21 348.77,135.57 349.15,134.93 349.54,134.29 349.92,133.65 350.31,133.02 350.70,132.39 351.08,131.76 351.47,131.13 351.85,130.50 352.24,129.88 352.62,129.26 353.01,128.64 353.40,128.02 353.78,127.41 354.17,126.80 354.55,126.19 354.94,125.59 355.32,124.98 355.71,124.38 356.10,123.79 356.48,123.19 356.87,122.60 357.25,122.02 357.64,121.43 358.03,120.85 358.41,120.27 358.80,119.70 359.18,119.13 359.57,118.57 359.95,118.00 360.34,117.45 360.73,116.89 361.11,116.34 361.50,115.79 361.88,115.25 362.27,114.71 362.65,114.18 363.04,113.65 363.43,113.13 363.81,112.61 364.20,112.09 364.58,111.58 364.97,111.07 365.36,110.57 365.74,110.07 366.13,109.58 366.51,109.09 366.90,108.61 367.28,108.13 367.67,107.66 368.06,107.19 368.44,106.73 368.83,106.27 369.21,105.82 369.60,105.37 369.98,104.93 370.37,104.50 370.76,104.06 371.14,103.64 371.53,103.22 371.91,102.81 372.30,102.40 372.68,102.00 373.07,101.60 373.46,101.21 373.84,100.83 374.23,100.45 374.61,100.07 375.00,99.71 375.39,99.35 375.77,98.99 376.16,98.64 376.54,98.30 376.93,97.96 377.31,97.63 377.70,97.31 378.09,96.99 378.47,96.68 378.86,96.38 379.24,96.08 379.63,95.78 380.01,95.50 380.40,95.22 380.79,94.95 381.17,94.68 381.56,94.42 381.94,94.17 382.33,93.92 382.72,93.68 383.10,93.45 383.49,93.22 383.87,93.00 384.26,92.79 384.64,92.58 385.03,92.38 385.42,92.19 385.80,92.00 386.19,91.82 386.57,91.65 386.96,91.48 387.34,91.32 387.73,91.17 388.12,91.03 388.50,90.89 388.89,90.76 389.27,90.63 389.66,90.51 390.05,90.40 390.43,90.30 390.82,90.20 391.20,90.11 391.59,90.02 391.97,89.94 392.36,89.87 392.75,89.81 393.13,89.75 393.52,89.70 393.90,89.66 394.29,89.62 394.67,89.59 395.06,89.57 395.45,89.55 395.83,89.54 396.22,89.54 396.60,89.54 396.99,89.55 397.37,89.57 397.76,89.59 398.15,89.62 398.53,89.66 398.92,89.70 399.30,89.75 399.69,89.81 400.08,89.87 400.46,89.94 400.85,90.02 401.23,90.10 401.62,90.19 402.00,90.29 402.39,90.39 402.78,90.50 403.16,90.61 403.55,90.73 403.93,90.86 404.32,90.99 404.70,91.13 405.09,91.27 405.48,91.42 405.86,91.58 406.25,91.74 406.63,91.91 407.02,92.09 407.41,92.27 407.79,92.46 408.18,92.65 408.56,92.85 408.95,93.05 409.33,93.26 409.72,93.48 410.11,93.70 410.49,93.92 410.88,94.15 411.26,94.39 411.65,94.63 412.03,94.88 412.42,95.14 412.81,95.39 413.19,95.66 413.58,95.93 413.96,96.20 414.35,96.48 414.74,96.76 415.12,97.05 415.51,97.35 415.89,97.65 416.28,97.95 416.66,98.26 417.05,98.57 417.44,98.89 417.82,99.21 418.21,99.53 418.59,99.86 418.98,100.20 419.36,100.54 419.75,100.88 420.14,101.23 420.52,101.58 420.91,101.94 421.29,102.30 421.68,102.66 422.06,103.03 422.45,103.40 422.84,103.78 423.22,104.16 423.61,104.54 423.99,104.92 424.38,105.31 424.77,105.71 425.15,106.10 425.54,106.50 425.92,106.91 426.31,107.31 426.69,107.72 427.08,108.13 427.47,108.55 427.85,108.97 428.24,109.39 428.62,109.81 429.01,110.24 429.39,110.67 429.78,111.10 430.17,111.54 430.55,111.97 430.94,112.41 431.32,112.85 431.71,113.30 432.10,113.74 432.48,114.19 432.87,114.64 433.25,115.10 433.64,115.55 434.02,116.01 434.41,116.47 434.80,116.93 435.18,117.39 435.57,117.85 435.95,118.32 436.34,118.78 436.72,119.25 437.11,119.72 437.50,120.19 437.88,120.66 438.27,121.14 438.65,121.61 439.04,122.09 439.43,122.56 439.81,123.04 440.20,123.52 440.58,124.00 440.97,124.48 441.35,124.96 441.74,125.44 442.13,125.92 442.51,126.40 442.90,126.89 443.28,127.37 443.67,127.86 444.05,128.34 444.44,128.82 444.83,129.31 445.21,129.79 445.60,130.28 445.98,130.76 446.37,131.25 446.76,131.73 447.14,132.22 447.53,132.70 447.91,133.19 448.30,133.67 448.68,134.15 449.07,134.64 449.46,135.12 449.84,135.60 450.23,136.08 450.61,136.57 451.00,137.05 451.38,137.53 451.77,138.01 452.16,138.48 452.54,138.96 452.93,139.44 453.31,139.91 453.70,140.39 454.08,140.86 454.47,141.33 454.86,141.81 455.24,142.28 455.63,142.75 456.01,143.21 456.40,143.68 456.79,144.15 457.17,144.61 457.56,145.07 457.94,145.54 458.33,146.00 458.71,146.45 459.10,146.91 459.49,147.37 459.87,147.82 460.26,148.27 460.64,148.72 461.03,149.17 461.41,149.62 461.80,150.06 462.19,150.51 462.57,150.95 462.96,151.39 463.34,151.83 463.73,152.26 464.12,152.70 464.50,153.13 464.89,153.56 465.27,153.99 465.66,154.41 466.04,154.84 466.43,155.26 466.82,155.68 467.20,156.09 467.59,156.51 467.97,156.92 468.36,157.33 468.74,157.74 469.13,158.15 469.52,158.55 469.90,158.95 470.29,159.35 470.67,159.75 471.06,160.14 471.45,160.54 471.83,160.93 472.22,161.31 472.60,161.70 472.99,162.08 473.37,162.46 473.76,162.84 474.15,163.21 474.53,163.58 474.92,163.95 475.30,164.32 475.69,164.69 476.07,165.05 476.46,165.41 476.85,165.77 477.23,166.12 477.62,166.47 478.00,166.82 478.39,167.17 478.77,167.51 479.16,167.85 479.55,168.19 479.93,168.53 480.32,168.86 480.70,169.19 481.09,169.52 481.48,169.85 481.86,170.17 482.25,170.49 482.63,170.81 483.02,171.12 483.40,171.44 483.79,171.75 484.18,172.05 484.56,172.36 484.95,172.66 485.33,172.96 485.72,173.26 486.10,173.55 486.49,173.84 486.88,174.13 487.26,174.42 487.65,174.70 488.03,174.98 488.42,175.26 488.81,175.53 489.19,175.80 489.58,176.07 489.96,176.34 490.35,176.61 490.73,176.87 491.12,177.13 491.51,177.39 491.89,177.64 492.28,177.89 492.66,178.14 493.05,178.39 493.43,178.63 493.82,178.87 494.21,179.11 494.59,179.35 494.98,179.59 495.36,179.82 495.75,180.05 496.14,180.27 496.52,180.50 496.91,180.72 497.29,180.94 497.68,181.16 498.06,181.37 498.45,181.58 498.84,181.79 499.22,182.00 499.61,182.20 499.99,182.41 500.38,182.61 500.76,182.80 501.15,183.00 501.54,183.19 501.92,183.38 502.31,183.57 502.69,183.76 503.08,183.94 503.46,184.13 503.85,184.31 504.24,184.48 504.62,184.66 505.01,184.83 505.39,185.00 505.78,185.17 506.17,185.34 506.55,185.50 506.94,185.67 507.32,185.83 507.71,185.98 508.09,186.14 508.48,186.29 508.87,186.45 509.25,186.60 509.64,186.75 510.02,186.89 510.41,187.04 510.79,187.18 511.18,187.32 511.57,187.46 511.95,187.59 512.34,187.73 512.72,187.86 513.11,187.99 513.50,188.12 513.88,188.25 514.27,188.38 514.65,188.50 515.04,188.62 515.42,188.74 515.81,188.86 516.20,188.98 516.58,189.09 516.97,189.21 517.35,189.32 517.74,189.43 518.12,189.54 518.51,189.65 518.90,189.75 519.28,189.86 519.67,189.96 520.05,190.06 520.44,190.16 520.83,190.26 521.21,190.35 521.60,190.45 521.98,190.54 522.37,190.63 522.75,190.72 523.14,190.81 523.53,190.90 523.91,190.99 524.30,191.07 524.68,191.16 525.07,191.24 525.45,191.32 525.84,191.40 526.23,191.48 526.61,191.55 527.00,191.63 527.38,191.71 527.77,191.78 528.15,191.85 528.54,191.92 528.93,191.99 529.31,192.06 529.70,192.13 530.08,192.19 530.47,192.26 530.86,192.32 531.24,192.39 531.63,192.45 532.01,192.51 532.40,192.57 532.78,192.63 533.17,192.69 533.56,192.74 533.94,192.80 534.33,192.86 534.71,192.91 535.10,192.96 535.48,193.01 535.87,193.07 536.26,193.12 536.64,193.17 537.03,193.21 537.41,193.26 537.80,193.31 538.19,193.35 538.57,193.40 538.96,193.44 539.34,193.49 539.73,193.53 540.11,193.57 540.50,193.61" stroke="#f8b826"/>
<polyline points="305.50,195.50 305.52,195.50 305.54,195.50 305.56,195.50 305.58,195.50 305.60,195.50 305.62,195.50 305.64,195.50 305.66,195.50 305.68,195.50 305.70,195.50 305.72,195.50 305.74,195.50 305.76,195.50 305.78,195.50 305.80,195.50 305.81,195.50 305.83,195.50 305.85,195.50 305.87,195.50 305.89,195.50 305.91,195.50 305.93,195.50 305.95,195.50 305.97,195.50 305.99,195.50 306.01,195.50 306.03,195.50 306.05,195.50 306.07,195.50 306.09,195.50 306.11,195.50 306.13,195.50 306.15,195.50 306.17,195.50 306.19,195.50 306.21,195.50 306.23,195.50 306.25,195.50 306.27,195.50 306.29,195.50 306.31,195.50 306.33,195.50 306.35,195.50 306.37,195.50 306.39,195.50 306.41,195.50 306.43,195.50 306.44,195.50 306.46,195.50 306.48,195.50 306.50,195.50 306.52,195.50 306.54,195.50 306.56,195.50 306.58,195.50 306.60,195.50 306.62,195.50 306.64,195.50 306.66,195.50 306.68,195.50 306.70,195.50 306.72,195.50 306.74,195.50 306.76,195.50 306.78,195.50 306.80,195.50 306.82,195.50 306.84,195.50 306.86,195.50 306.88,195.50 306.90,195.50 306.92,195.50 306.94,195.50 306.96,195.50 306.98,195.50 307.00,195.50 307.02,195.50 307.04,195.50 307.05,195.50 307.07,195.50 307.09,195.50 307.11,195.50 307.13,195.50 307.15,195.50 307.17,195.50 307.19,195.50 307.21,195.50 307.23,195.50 307.25,195.50 307.27,195.50 307.29,195.50 307.31,195.50 307.33,195.49 307.35,195.49 307.37,195.49 307.39,195.49 307.41,195.49 307.43,195.49 307.45,195.49 307.47,195.49 307.49,195.49 307.51,195.49 307.53,195.49 307.55,195.49 307.57,195.49 307.59,195.49 307.61,195.49 307.63,195.49 307.65,195.49 307.66,195.49 307.68,195.49 307.70,195.49 307.72,195.49 307.74,195.49 307.76,195.49 307.78,195.49 307.80,195.49 307.82,195.49 307.84,195.49 307.86,195.49 307.88,195.49 307.90,195.49 307.92,195.49 307.94,195.49 307.96,195.49 307.98,195.49 308.00,195.49 308.02,195.49 308.04,195.49 308.06,195.49 308.08,195.49 308.10,195.49 308.12,195.49 308.14,195.49 308.16,195.49 308.18,195.49 308.20,195.49 308.22,195.49 308.24,195.49 308.26,195.48 308.28,195.48 308.29,195.48 308.31,195.48 308.33,195.48 308.35,195.48 308.37,195.48 308.39,195.48 308.41,195.48 308.43,195.48 308.45,195.48 308.47,195.48 308.49,195.48 308.51,195.48 308.53,195.48 308.55,195.48 308.57,195.48 308.59,195.48 308.61,195.48 308.63,195.48 308.65,195.48 308.67,195.48 308.69,195.48 308.71,195.48 308.73,195.48 308.75,195.48 308.77,195.48 308.79,195.48 308.81,195.48 308.83,195.48 308.85,195.47 308.87,195.47 308.89,195.47 308.90,195.47 308.92,195.47 308.94,195.47 308.96,195.47 308.98,195.47 309.00,195.47 309.02,195.47 309.04,195.47 309.06,195.47 309.08,195.47 309.10,195.47 309.12,195.47 309.14,195.47 309.16,195.47 309.18,195.47 309.20,195.47 309.22,195.47 309.24,195.47 309.26,195.47 309.28,195.46 309.30,195.46 309.32,195.46 309.34,195.46 309.36,195.46 309.38,195.46 309.40,195.46 309.42,195.46 309.42,195.46 309.80,195.45 310.19,195.44 310.57,195.42 310.96,195.41 311.35,195.39 311.73,195.37 312.12,195.34 312.50,195.32 312.89,195.29 313.27,195.26 313.66,195.22 314.05,195.19 314.43,195.15 314.82,195.10 315.20,195.06 315.59,195.01 315.97,194.96 316.36,194.90 316.75,194.84 317.13,194.78 317.52,194.71 317.90,194.65 318.29,194.57 318.68,194.49 319.06,194.41 319.45,194.33 319.83,194.24 320.22,194.15 320.60,194.05 320.99,193.95 321.38,193.84 321.76,193.73 322.15,193.62 322.53,193.50 322.92,193.37 323.30,193.25 323.69,193.11 324.08,192.97 324.46,192.83 324.85,192.68 325.23,192.53 325.62,192.37 326.01,192.21 326.39,192.04 326.78,191.86 327.16,191.69 327.55,191.50 327.93,191.31 328.32,191.11 328.71,190.91 329.09,190.71 329.48,190.49 329.86,190.28 330.25,190.05 330.63,189.82 331.02,189.59 331.41,189.34 331.79,189.10 332.18,188.84 332.56,188.58 332.95,188.31 333.34,188.04 333.72,187.76 334.11,187.48 334.49,187.19 334.88,186.89 335.26,186.58 335.65,186.27 336.04,185.96 336.42,185.63 336.81,185.30 337.19,184.96 337.58,184.62 337.96,184.27 338.35,183.91 338.74,183.54 339.12,183.17 339.51,182.79 339.89,182.41 340.28,182.02 340.66,181.62 341.05,181.21 341.44,180.80 341.82,180.38 342.21,179.95 342.59,179.52 342.98,179.07 343.37,178.63 343.75,178.17 344.14,177.71 344.52,177.24 344.91,176.76 345.29,176.27 345.68,175.78 346.07,175.28 346.45,174.77 346.84,174.26 347.22,173.74 347.61,173.21 347.99,172.68 348.38,172.13 348.77,171.58 349.15,171.02 349.54,170.46 349.92,169.89 350.31,169.31 350.70,168.72 351.08,168.13 351.47,167.53 351.85,166.92 352.24,166.30 352.62,165.68 353.01,165.05 353.40,164.41 353.78,163.77 354.17,163.12 354.55,162.46 354.94,161.79 355.32,161.12 355.71,160.44 356.10,159.76 356.48,159.07 356.87,158.37 357.25,157.66 357.64,156.95 358.03,156.23 358.41,155.50 358.80,154.77 359.18,154.03 359.57,153.28 359.95,152.53 360.34,151.77 360.73,151.01 361.11,150.24 361.50,149.46 361.88,148.68 362.27,147.89 362.65,147.10 363.04,146.29 363.43,145.49 363.81,144.68 364.20,143.86 364.58,143.04 364.97,142.21 365.36,141.38 365.74,140.54 366.13,139.70 366.51,138.85 366.90,138.00 367.28,137.14 367.67,136.28 368.06,135.41 368.44,134.54 368.83,133.66 369.21,132.78 369.60,131.90 369.98,131.01 370.37,130.12 370.76,129.23 371.14,128.33 371.53,127.43 371.91,126.53 372.30,125.62 372.68,124.71 373.07,123.80 373.46,122.88 373.84,121.97 374.23,121.05 374.61,120.13 375.00,119.20 375.39,118.28 375.77,117.35 376.16,116.42 376.54,115.50 376.93,114.57 377.31,113.63 377.70,112.70 378.09,111.77 378.47,110.84 378.86,109.91 379.24,108.97 379.63,108.04 380.01,107.11 380.40,106.18 380.79,105.25 381.17,104.32 381.56,103.39 381.94,102.47 382.33,101.54 382.72,100.62 383.10,99.70 383.49,98.78 383.87,97.87 384.26,96.96 384.64,96.05 385.03,95.14 385.42,94.24 385.80,93.34 386.19,92.44 386.57,91.55 386.96,90.66 387.34,89.78 387.73,88.90 388.12,88.03 388.50,87.16 388.89,86.30 389.27,85.45 389.66,84.60 390.05,83.75 390.43,82.91 390.82,82.08 391.20,81.26 391.59,80.44 391.97,79.63 392.36,78.83 392.75,78.04 393.13,77.25 393.52,76.47 393.90,75.70 394.29,74.94 394.67,74.19 395.06,73.45 395.45,72.71 395.83,71.99 396.22,71.28 396.60,70.57 396.99,69.88 397.37,69.20 397.76,68.52 398.15,67.86 398.53,67.21 398.92,66.57 399.30,65.95 399.69,65.33 400.08,64.73 400.46,64.14 400.85,63.56 401.23,62.99 401.62,62.44 402.00,61.90 402.39,61.38 402.78,60.86 403.16,60.36 403.55,59.88 403.93,59.41 404.32,58.95 404.70,58.51 405.09,58.08 405.48,57.67 405.86,57.27 406.25,56.89 406.63,56.52 407.02,56.16 407.41,55.83 407.79,55.51 408.18,55.20 408.56,54.91 408.95,54.64 409.33,54.38 409.72,54.14 410.11,53.92 410.49,53.71 410.88,53.52 411.26,53.34 411.65,53.18 412.03,53.04 412.42,52.92 412.81,52.81 413.19,52.73 413.58,52.65 413.96,52.60 414.35,52.56 414.74,52.54 415.12,52.54 415.51,52.56 415.89,52.59 416.28,52.64 416.66,52.71 417.05,52.80 417.44,52.90 417.82,53.02 418.21,53.16 418.59,53.32 418.98,53.49 419.36,53.69 419.75,53.90 420.14,54.13 420.52,54.37 420.91,54.63 421.29,54.91 421.68,55.21 422.06,55.53 422.45,55.86 422.84,56.21 423.22,56.58 423.61,56.96 423.99,57.36 424.38,57.78 424.77,58.22 425.15,58.67 425.54,59.14 425.92,59.62 426.31,60.12 426.69,60.64 427.08,61.17 427.47,61.72 427.85,62.28 428.24,62.86 428.62,63.46 429.01,64.07 429.39,64.69 429.78,65.33 430.17,65.99 430.55,66.65 430.94,67.34 431.32,68.03 431.71,68.74 432.10,69.47 432.48,70.21 432.87,70.96 433.25,71.72 433.64,72.50 434.02,73.29 434.41,74.09 434.80,74.90 435.18,75.72 435.57,76.56 435.95,77.41 436.34,78.26 436.72,79.13 437.11,80.01 437.50,80.90 437.88,81.80 438.27,82.70 438.65,83.62 439.04,84.55 439.43,85.48 439.81,86.42 440.20,87.37 440.58,88.33 440.97,89.30 441.35,90.27 441.74,91.25 442.13,92.23 442.51,93.23 442.90,94.22 443.28,95.23 443.67,96.24 444.05,97.25 444.44,98.27 444.83,99.29 445.21,100.32 445.60,101.35 445.98,102.38 446.37,103.42 446.76,104.46 447.14,105.50 447.53,106.55 447.91,107.59 448.30,108.64 448.68,109.69 449.07,110.74 449.46,111.79 449.84,112.84 450.23,113.89 450.61,114.94 451.00,115.99 451.38,117.04 451.77,118.09 452.16,119.13 452.54,120.18 452.93,121.22 453.31,122.26 453.70,123.30 454.08,124.33 454.47,125.37 454.86,126.40 455.24,127.42 455.63,128.44 456.01,129.46 456.40,130.47 456.79,131.48 457.17,132.48 457.56,133.48 457.94,134.48 458.33,135.46 458.71,136.45 459.10,137.42 459.49,138.39 459.87,139.36 460.26,140.31 460.64,141.27 461.03,142.21 461.41,143.15 461.80,144.07 462.19,145.00 462.57,145.91 462.96,146.82 463.34,147.72 463.73,148.61 464.12,149.49 464.50,150.36 464.89,151.23 465.27,152.09 465.66,152.93 466.04,153.77 466.43,154.60 466.82,155.43 467.20,156.24 467.59,157.04 467.97,157.84 468.36,158.62 468.74,159.40 469.13,160.16 469.52,160.92 469.90,161.66 470.29,162.40 470.67,163.13 471.06,163.84 471.45,164.55 471.83,165.25 472.22,165.93 472.60,166.61 472.99,167.28 473.37,167.94 473.76,168.58 474.15,169.22 474.53,169.85 474.92,170.46 475.30,171.07 475.69,171.67 476.07,172.26 476.46,172.84 476.85,173.40 477.23,173.96 477.62,174.51 478.00,175.05 478.39,175.58 478.77,176.10 479.16,176.61 479.55,177.11 479.93,177.60 480.32,178.08 480.70,178.55 481.09,179.01 481.48,179.46 481.86,179.91 482.25,180.34 482.63,180.77 483.02,181.19 483.40,181.59 483.79,181.99 484.18,182.39 484.56,182.77 484.95,183.14 485.33,183.51 485.72,183.86 486.10,184.21 486.49,184.55 486.88,184.89 487.26,185.21 487.65,185.53 488.03,185.84 488.42,186.14 488.81,186.44 489.19,186.72 489.58,187.01 489.96,187.28 490.35,187.54 490.73,187.80 491.12,188.06 491.51,188.30 491.89,188.54 492.28,188.78 492.66,189.00 493.05,189.22 493.43,189.44 493.82,189.65 494.21,189.85 494.59,190.05 494.98,190.24 495.36,190.42 495.75,190.60 496.14,190.78 496.52,190.95 496.91,191.11 497.29,191.27 497.68,191.43 498.06,191.58 498.45,191.72 498.84,191.87 499.22,192.00 499.61,192.13 499.99,192.26 500.38,192.39 500.76,192.51 501.15,192.62 501.54,192.74 501.92,192.84 502.31,192.95 502.69,193.05 503.08,193.15 503.46,193.24 503.85,193.34 504.24,193.42 504.62,193.51 505.01,193.59 505.39,193.67 505.78,193.75 506.17,193.82 506.55,193.89 506.94,193.96 507.32,194.02 507.71,194.09 508.09,194.15 508.48,194.21 508.87,194.26 509.25,194.32 509.64,194.37 510.02,194.42 510.41,194.47 510.79,194.52 511.18,194.56 511.57,194.60 511.95,194.64 512.34,194.68 512.72,194.72 513.11,194.76 513.50,194.79 513.88,194.83 514.27,194.86 514.65,194.89 515.04,194.92 515.42,194.95 515.81,194.97 516.20,195.00 516.58,195.02 516.97,195.05 517.35,195.07 517.74,195.09 518.12,195.11 518.51,195.13 518.90,195.15 519.28,195.17 519.67,195.18 520.05,195.20 520.44,195.22 520.83,195.23 521.21,195.24 521.60,195.26 521.98,195.27 522.37,195.28 522.75,195.29 523.14,195.31 523.53,195.32 523.91,195.33 524.30,195.34 524.68,195.34 525.07,195.35 525.45,195.36 525.84,195.37 526.23,195.38 526.61,195.38 527.00,195.39 527.38,195.40 527.77,195.40 528.15,195.41 528.54,195.41 528.93,195.42 529.31,195.42 529.70,195.43 530.08,195.43 530.47,195.44 530.86,195.44 531.24,195.44 531.63,195.45 532.01,195.45 532.40,195.45 532.78,195.46 533.17,195.46 533.56,195.46 533.94,195.46 534.33,195.47 534.71,195.47 535.10,195.47 535.48,195.47 535.87,195.47 536.26,195.47 536.64,195.48 537.03,195.48 537.41,195.48 537.80,195.48 538.19,195.48 538.57,195.48 538.96,195.48 539.34,195.49 539.73,195.49 540.11,195.49 540.50,195.49" stroke="#a23db6" stroke-dasharray="5.3 5.13" stroke-dashoffset="0.87"/>
</g>
<g font-family='"Liberation Sans", Arial, Helvetica, sans-serif' font-size="7.5" fill="#383838" stroke="#383838" stroke-width="0.1">
<text x="305.50" y="206.50" text-anchor="middle">0</text>
<text x="344.67" y="206.50" text-anchor="middle">0.5</text>
<text x="383.83" y="206.50" text-anchor="middle">1</text>
<text x="423.00" y="206.50" text-anchor="middle">1.5</text>
<text x="462.17" y="206.50" text-anchor="middle">2</text>
<text x="501.33" y="206.50" text-anchor="middle">2.5</text>
<text x="540.50" y="206.50" text-anchor="middle">3</text>
<text x="302.00" y="198.60" text-anchor="end">0</text>
<text x="302.00" y="167.77" text-anchor="end">0.2</text>
<text x="302.00" y="136.93" text-anchor="end">0.4</text>
<text x="302.00" y="106.10" text-anchor="end">0.6</text>
<text x="302.00" y="75.27" text-anchor="end">0.8</text>
<text x="302.00" y="44.43" text-anchor="end">1</text>
<text x="302.00" y="13.60" text-anchor="end">1.2</text>
</g>
<text x="423.00" y="217" text-anchor="middle" font-family='"Liberation Sans", Arial, Helvetica, sans-serif' font-size="7.9" fill="#383838" stroke="#383838" stroke-width="0.1">HSR21pMIN</text>
<text transform="translate(287.50,104.30) rotate(-90)" text-anchor="middle" font-family='"Liberation Sans", Arial, Helvetica, sans-serif' font-size="7.9" fill="#383838" stroke="#383838" stroke-width="0.1">HSR21pMIN Probability Density</text>
<rect x="475.50" y="18" width="57.40" height="38" fill="#fff" stroke="#555" stroke-width="0.5"/>
<line x1="479.80" y1="23.60" x2="501.50" y2="23.60" stroke="#0a78c8" stroke-width="1.6"/>
<text x="503.30" y="25.90" font-family='"Liberation Sans", Arial, Helvetica, sans-serif' font-size="6.5" fill="#383838" stroke="#383838" stroke-width="0.1">CF 14-15</text>
<line x1="479.80" y1="32.80" x2="501.50" y2="32.80" stroke="#f66a32" stroke-width="1.6" stroke-dasharray="1.6 0.95"/>
<text x="503.30" y="35.10" font-family='"Liberation Sans", Arial, Helvetica, sans-serif' font-size="6.5" fill="#383838" stroke="#383838" stroke-width="0.1">CF 15-16</text>
<line x1="479.80" y1="42.00" x2="501.50" y2="42.00" stroke="#f8b826" stroke-width="1.6"/>
<text x="503.30" y="44.30" font-family='"Liberation Sans", Arial, Helvetica, sans-serif' font-size="6.5" fill="#383838" stroke="#383838" stroke-width="0.1">CF 16-17</text>
<line x1="479.80" y1="51.20" x2="501.50" y2="51.20" stroke="#a23db6" stroke-width="1.6" stroke-dasharray="5.3 5.13"/>
<text x="503.30" y="53.50" font-family='"Liberation Sans", Arial, Helvetica, sans-serif' font-size="6.5" fill="#383838" stroke="#383838" stroke-width="0.1">CF 17-18</text>
<text x="135" y="242" text-anchor="middle" font-family='"Liberation Serif", "Times New Roman", serif' font-size="13" fill="#000">(<tspan font-weight="bold">a</tspan>)</text>
<text x="411.5" y="242" text-anchor="middle" font-family='"Liberation Serif", "Times New Roman", serif' font-size="13" fill="#000">(<tspan font-weight="bold">b</tspan>)</text>

</svg>
</body></html>
